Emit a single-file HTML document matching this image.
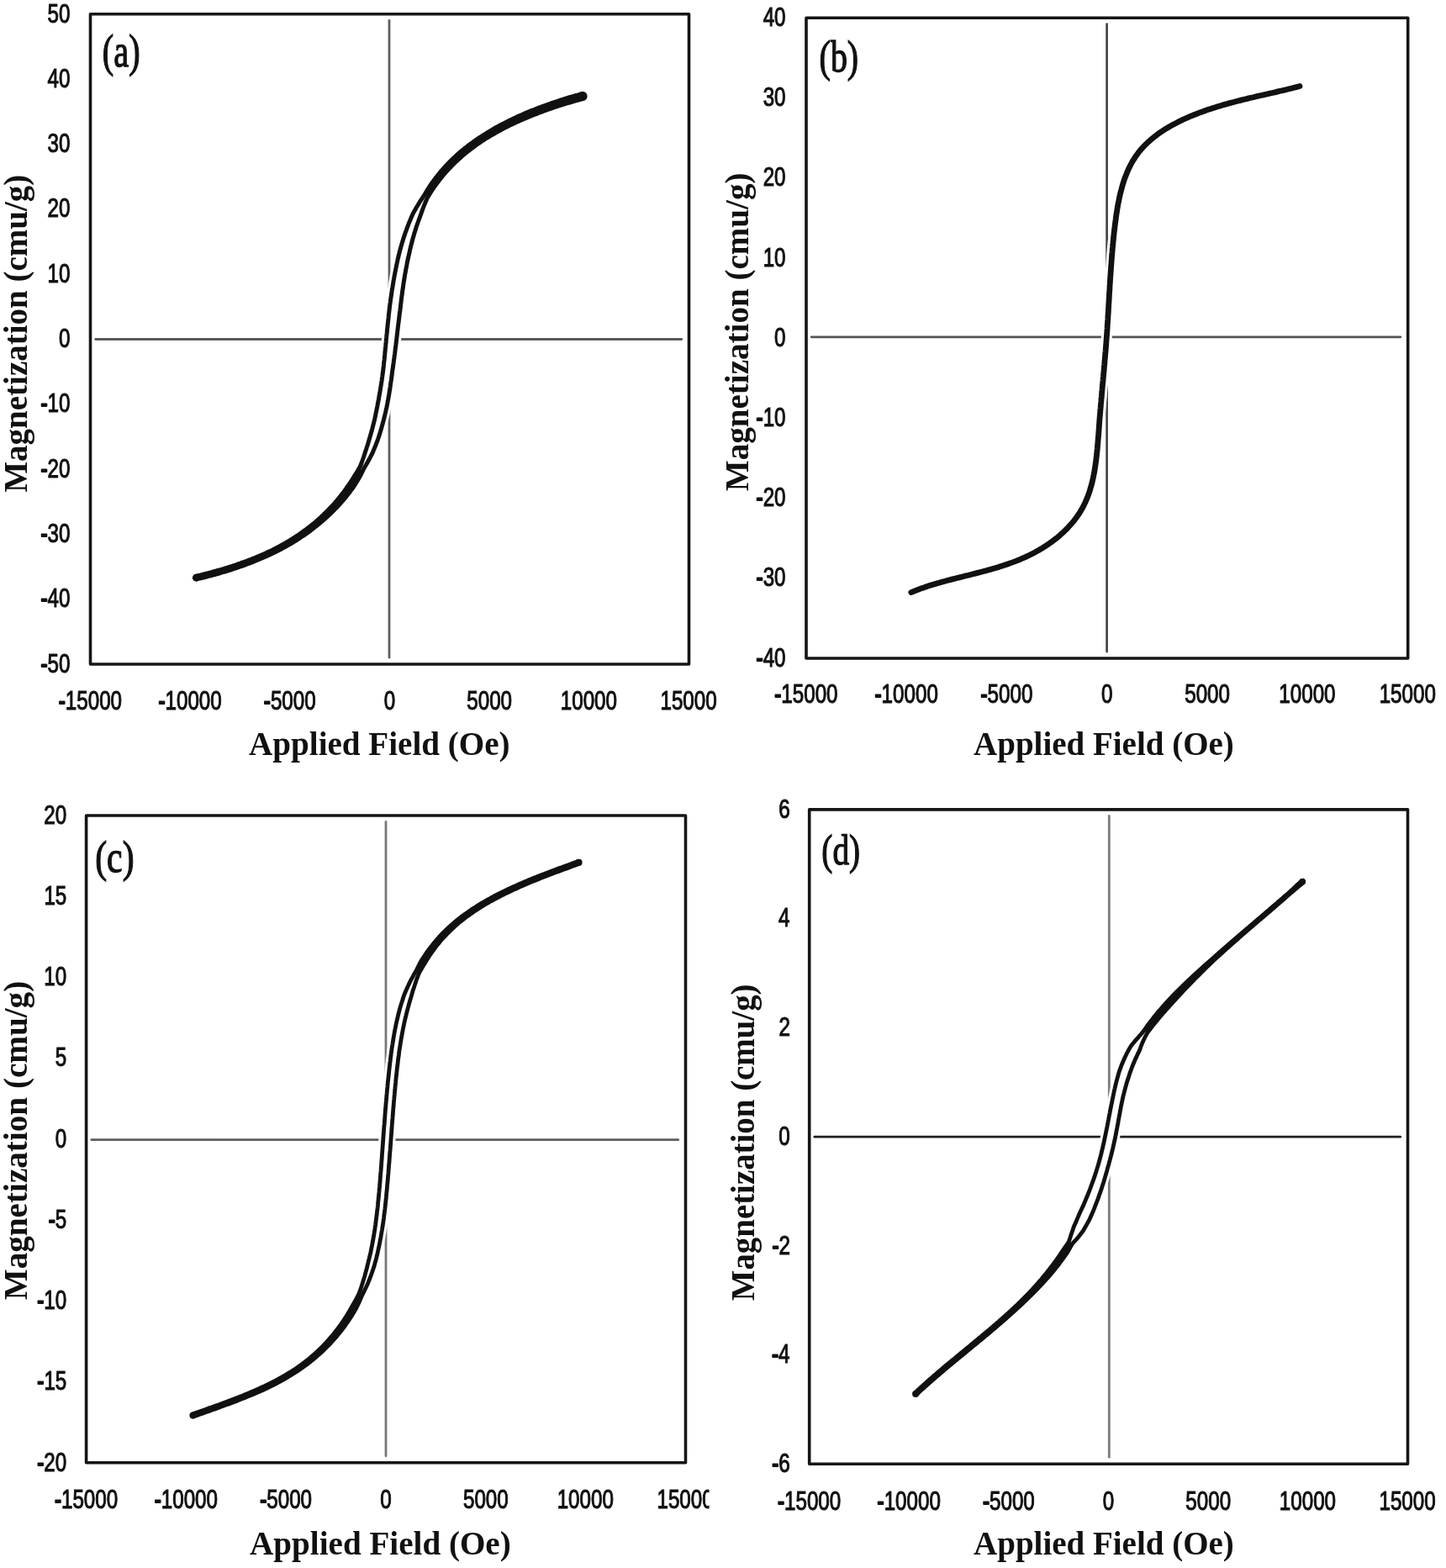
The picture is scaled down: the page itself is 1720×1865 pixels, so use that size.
<!DOCTYPE html>
<html><head><meta charset="utf-8"><title>Magnetization hysteresis loops</title>
<style>html,body{margin:0;padding:0;background:#fff;}svg{display:block;}</style>
</head><body>
<svg xmlns="http://www.w3.org/2000/svg" width="1720" height="1865" viewBox="0 0 1720 1865">
<rect width="1720" height="1865" fill="#fff"/>
<defs><clipPath id="clipc"><rect x="0" y="0" width="843.50" height="1865"/></clipPath></defs>
<line x1="113.70" y1="403.50" x2="810.70" y2="403.50" stroke="#5a5a5a" stroke-width="2.8" stroke-linecap="round"/>
<line x1="463.00" y1="24.30" x2="463.00" y2="782.00" stroke="#5f5f5f" stroke-width="2.8" stroke-linecap="round"/>
<path d="M232.9 685.3L235.2 684.7L237.6 684.2L239.9 683.6L242.3 683.0L244.7 682.4L247.1 681.8L249.5 681.1L251.8 680.5L254.2 679.8L256.6 679.2L259.0 678.5L261.4 677.8L263.9 677.1L266.3 676.4L268.7 675.6L271.1 674.9L273.5 674.1L275.9 673.4L278.3 672.6L280.7 671.8L283.1 670.9L285.5 670.1L287.9 669.2L290.3 668.4L292.7 667.5L295.1 666.6L297.5 665.7L299.9 664.7L302.3 663.8L304.7 662.8L307.0 661.8L309.4 660.8L311.7 659.8L314.1 658.8L316.4 657.7L318.7 656.6L321.1 655.5L323.4 654.4L325.7 653.2L328.0 652.1L330.2 650.9L332.5 649.7L334.7 648.5L337.0 647.2L339.2 645.9L341.4 644.7L343.6 643.4L345.8 642.0L348.0 640.7L350.1 639.3L352.2 637.9L354.4 636.5L356.5 635.1L358.6 633.6L360.6 632.1L362.7 630.7L364.7 629.1L366.8 627.6L368.8 626.1L370.7 624.5L372.7 622.9L374.6 621.3L376.6 619.6L378.5 618.0L380.3 616.3L382.2 614.6L384.0 612.9L385.8 611.1L387.6 609.4L389.4 607.6L391.1 605.8L392.8 604.1L394.5 602.2L396.2 600.4L397.9 598.6L399.5 596.7L401.1 594.8L402.7 592.9L404.2 591.0L405.7 589.1L407.2 587.1L408.7 585.2L410.2 583.2L411.6 581.3L413.0 579.3L414.4 577.3L415.8 575.3L417.1 573.3L418.5 571.3L419.7 569.2L421.0 567.2L422.2 565.1L423.5 563.0L424.8 561.0L426.0 558.9L427.2 556.9L428.4 554.8L429.3 552.5L430.2 550.3L431.0 548.0L431.8 545.7L432.6 543.5L433.3 541.2L434.1 538.9L434.8 536.6L435.6 534.3L436.3 532.0L437.1 529.7L437.8 527.4L438.5 525.1L439.2 522.8L439.8 520.5L440.5 518.2L441.2 515.8L441.8 513.5L442.5 511.2L443.1 508.8L443.7 506.4L444.3 504.1L444.9 501.7L445.5 499.3L446.0 496.9L446.5 494.5L447.0 492.1L447.5 489.7L448.0 487.2L448.5 484.8L449.0 482.4L449.4 479.9L449.9 477.5L450.4 475.0L450.8 472.5L451.2 470.1L451.7 467.6L452.1 465.1L452.5 462.6L452.9 460.1L453.3 457.6L453.7 455.1L454.1 452.6L454.4 450.1L454.8 447.6L455.1 445.0L455.5 442.5L455.8 439.9L456.1 437.4L456.4 434.8L456.6 432.3L456.9 429.7L457.2 427.2L457.4 424.6L457.7 422.0L457.9 419.4L458.2 416.9L458.4 414.3L458.7 411.7L458.9 409.1L459.2 406.5L459.4 403.9L459.7 401.3L459.9 398.8L460.2 396.2L460.4 393.6L460.7 391.0L461.0 388.4L461.2 385.8L461.5 383.2L461.8 380.6L462.1 378.0L462.3 375.4L462.6 372.8L462.9 370.2L463.2 367.6L463.5 365.0L463.8 362.4L464.2 359.8L464.5 357.2L464.9 354.6L465.3 352.0L465.7 349.5L466.0 346.9L466.4 344.3L466.9 341.7L467.3 339.2L467.7 336.6L468.1 334.0L468.6 331.5L469.0 328.9L469.5 326.4L470.0 323.8L470.5 321.3L471.0 318.7L471.5 316.2L472.0 313.7L472.6 311.1L473.1 308.6L473.7 306.1L474.3 303.6L474.9 301.1L475.5 298.6L476.2 296.2L476.9 293.7L477.6 291.3L478.3 288.8L479.1 286.4L479.8 283.9L480.6 281.5L481.4 279.1L482.2 276.7L483.1 274.3L483.9 272.0L484.8 269.6L485.7 267.2L486.6 264.9L487.6 262.6L488.5 260.3L489.5 257.9L490.5 255.7L491.6 253.4L492.8 251.2L494.1 249.0L495.3 246.8L496.6 244.7L497.9 242.6L499.2 240.4L500.5 238.4L501.9 236.3L503.3 234.2L504.6 232.1L505.9 230.0L507.1 227.9L508.4 225.7L509.8 223.6L511.1 221.6L512.5 219.5L513.9 217.5L515.4 215.4L516.8 213.4L518.3 211.4L519.9 209.5L521.4 207.5L523.0 205.6L524.6 203.7L526.2 201.8L527.9 199.9L529.6 198.0L531.3 196.2L533.0 194.4L534.8 192.6L536.6 190.8L538.4 189.0L540.2 187.3L542.1 185.6L543.9 183.9L545.8 182.2L547.8 180.5L549.7 178.9L551.7 177.3L553.7 175.7L555.7 174.1L557.7 172.6L559.8 171.0L561.9 169.5L563.9 168.0L566.0 166.6L568.2 165.1L570.3 163.7L572.5 162.3L574.6 160.9L576.8 159.5L579.0 158.1L581.3 156.8L583.5 155.4L585.7 154.1L588.0 152.8L590.2 151.5L592.5 150.3L594.8 149.0L597.1 147.8L599.4 146.6L601.7 145.4L604.1 144.2L606.4 143.1L608.8 141.9L611.1 140.8L613.5 139.7L615.8 138.6L618.2 137.5L620.6 136.5L623.0 135.4L625.4 134.4L627.8 133.4L630.2 132.4L632.6 131.4L635.0 130.5L637.4 129.5L639.8 128.6L642.2 127.7L644.6 126.7L647.0 125.9L649.5 125.0L651.9 124.1L654.3 123.3L656.7 122.4L659.1 121.6L661.5 120.8L663.9 120.0L666.3 119.2L668.7 118.5L671.1 117.7L673.5 117.0L675.8 116.2L678.2 115.5L680.6 114.8L682.9 114.1L685.3 113.4L687.6 112.8L689.9 112.1L692.3 111.5" fill="none" stroke="#fff" stroke-width="11.00" stroke-linecap="round" stroke-linejoin="round"/>
<path d="M233.7 689.0L236.1 688.4L238.5 687.9L240.8 687.3L243.2 686.7L245.6 686.1L248.0 685.4L250.4 684.8L252.8 684.2L255.2 683.5L257.7 682.8L260.1 682.2L262.5 681.5L264.9 680.7L267.4 680.0L269.8 679.3L272.2 678.5L274.7 677.8L277.1 677.0L279.5 676.2L281.9 675.4L284.4 674.5L286.8 673.7L289.2 672.8L291.7 671.9L294.1 671.0L296.5 670.1L298.9 669.2L301.3 668.3L303.7 667.3L306.1 666.3L308.5 665.3L310.9 664.3L313.3 663.3L315.6 662.2L318.0 661.2L320.4 660.1L322.7 659.0L325.1 657.8L327.4 656.7L329.7 655.5L332.0 654.4L334.3 653.2L336.6 651.9L338.9 650.7L341.2 649.4L343.4 648.1L345.7 646.8L347.9 645.5L350.1 644.2L352.3 642.8L354.5 641.4L356.7 640.0L358.8 638.5L361.0 637.1L363.1 635.6L365.2 634.1L367.3 632.6L369.4 631.1L371.4 629.5L373.5 627.9L375.5 626.3L377.5 624.7L379.5 623.1L381.5 621.5L383.4 619.8L385.4 618.1L387.3 616.4L389.2 614.7L391.0 613.0L392.9 611.2L394.7 609.4L396.5 607.7L398.3 605.8L400.1 604.0L401.8 602.2L403.6 600.3L405.3 598.4L406.9 596.5L408.6 594.6L410.2 592.7L411.8 590.8L413.4 588.8L415.0 586.8L416.4 584.8L417.9 582.8L419.4 580.7L420.8 578.7L422.2 576.6L423.5 574.5L424.8 572.4L426.1 570.3L427.4 568.1L428.6 565.9L429.7 563.7L430.8 561.5L431.9 559.3L432.9 557.0L434.2 554.9L435.5 552.8L436.7 550.7L437.9 548.5L439.1 546.3L440.3 544.1L441.4 541.9L442.6 539.7L443.6 537.4L444.6 535.1L445.5 532.8L446.5 530.5L447.4 528.2L448.3 525.9L449.2 523.5L450.0 521.2L450.8 518.8L451.6 516.4L452.3 514.0L453.0 511.6L453.7 509.2L454.4 506.7L455.1 504.3L455.7 501.9L456.4 499.4L457.0 496.9L457.6 494.5L458.2 492.0L458.8 489.5L459.3 487.0L459.9 484.6L460.4 482.1L460.9 479.5L461.3 477.0L461.8 474.5L462.2 472.0L462.7 469.5L463.1 466.9L463.5 464.4L463.9 461.8L464.3 459.3L464.6 456.7L465.0 454.2L465.4 451.6L465.7 449.1L466.1 446.5L466.4 443.9L466.7 441.4L467.1 438.8L467.5 436.2L467.8 433.6L468.2 431.1L468.5 428.5L468.9 425.9L469.2 423.3L469.6 420.8L469.9 418.2L470.2 415.6L470.5 413.0L470.9 410.4L471.2 407.8L471.5 405.3L471.8 402.7L472.1 400.1L472.4 397.5L472.7 394.9L473.0 392.3L473.3 389.7L473.6 387.2L473.9 384.6L474.3 382.0L474.6 379.4L474.9 376.8L475.2 374.3L475.5 371.7L475.9 369.1L476.2 366.6L476.5 364.0L476.8 361.4L477.1 358.9L477.4 356.3L477.7 353.7L478.1 351.2L478.4 348.6L478.7 346.1L479.1 343.6L479.5 341.0L479.8 338.5L480.2 336.0L480.6 333.5L481.0 331.0L481.4 328.5L481.8 326.0L482.3 323.5L482.7 321.0L483.2 318.5L483.7 316.0L484.1 313.6L484.6 311.1L485.1 308.7L485.7 306.2L486.2 303.8L486.8 301.4L487.3 299.0L487.8 296.5L488.4 294.1L489.0 291.7L489.6 289.3L490.2 287.0L490.8 284.6L491.5 282.2L492.2 279.9L492.8 277.6L493.6 275.2L494.3 272.9L495.0 270.6L495.8 268.3L496.6 266.0L497.4 263.7L498.2 261.5L499.1 259.2L499.9 257.0L500.7 254.7L501.5 252.4L502.3 250.1L503.1 247.9L504.0 245.6L504.9 243.4L505.8 241.1L506.8 238.9L507.7 236.7L508.8 234.5L510.1 232.5L511.3 230.4L512.6 228.4L513.9 226.4L515.3 224.4L516.6 222.4L518.0 220.4L519.5 218.4L520.9 216.5L522.4 214.6L523.9 212.6L525.4 210.7L526.9 208.9L528.5 207.0L530.1 205.2L531.7 203.4L533.4 201.5L535.1 199.8L536.7 198.0L538.5 196.2L540.2 194.5L542.0 192.8L543.8 191.1L545.6 189.4L547.4 187.8L549.3 186.1L551.1 184.5L553.0 182.9L555.0 181.3L556.9 179.8L558.9 178.2L560.9 176.7L562.9 175.2L564.9 173.7L566.9 172.3L569.0 170.8L571.1 169.4L573.2 168.0L575.3 166.6L577.4 165.2L579.6 163.9L581.8 162.6L583.9 161.2L586.1 160.0L588.4 158.7L590.6 157.4L592.8 156.2L595.1 155.0L597.3 153.8L599.6 152.6L601.9 151.4L604.2 150.3L606.5 149.1L608.8 148.0L611.1 146.9L613.5 145.8L615.8 144.8L618.1 143.7L620.5 142.7L622.8 141.6L625.2 140.6L627.6 139.6L629.9 138.7L632.3 137.7L634.7 136.7L637.1 135.8L639.5 134.9L641.9 134.0L644.3 133.1L646.6 132.2L649.0 131.3L651.4 130.5L653.8 129.6L656.2 128.8L658.6 128.0L661.0 127.2L663.4 126.4L665.7 125.7L668.1 124.9L670.5 124.2L672.9 123.4L675.2 122.7L677.6 122.0L679.9 121.3L682.3 120.6L684.6 119.9L686.9 119.3L689.3 118.6L691.6 118.0L693.9 117.4" fill="none" stroke="#fff" stroke-width="11.00" stroke-linecap="round" stroke-linejoin="round"/>
<path d="M232.9 685.3L235.2 684.7L237.6 684.2L239.9 683.6L242.3 683.0L244.7 682.4L247.1 681.8L249.5 681.1L251.8 680.5L254.2 679.8L256.6 679.2L259.0 678.5L261.4 677.8L263.9 677.1L266.3 676.4L268.7 675.6L271.1 674.9L273.5 674.1L275.9 673.4L278.3 672.6L280.7 671.8L283.1 670.9L285.5 670.1L287.9 669.2L290.3 668.4L292.7 667.5L295.1 666.6L297.5 665.7L299.9 664.7L302.3 663.8L304.7 662.8L307.0 661.8L309.4 660.8L311.7 659.8L314.1 658.8L316.4 657.7L318.7 656.6L321.1 655.5L323.4 654.4L325.7 653.2L328.0 652.1L330.2 650.9L332.5 649.7L334.7 648.5L337.0 647.2L339.2 645.9L341.4 644.7L343.6 643.4L345.8 642.0L348.0 640.7L350.1 639.3L352.2 637.9L354.4 636.5L356.5 635.1L358.6 633.6L360.6 632.1L362.7 630.7L364.7 629.1L366.8 627.6L368.8 626.1L370.7 624.5L372.7 622.9L374.6 621.3L376.6 619.6L378.5 618.0L380.3 616.3L382.2 614.6L384.0 612.9L385.8 611.1L387.6 609.4L389.4 607.6L391.1 605.8L392.8 604.1L394.5 602.2L396.2 600.4L397.9 598.6L399.5 596.7L401.1 594.8L402.7 592.9L404.2 591.0L405.7 589.1L407.2 587.1L408.7 585.2L410.2 583.2L411.6 581.3L413.0 579.3L414.4 577.3L415.8 575.3L417.1 573.3L418.5 571.3L419.7 569.2L421.0 567.2L422.2 565.1L423.5 563.0L424.8 561.0L426.0 558.9L427.2 556.9L428.4 554.8L429.3 552.5L430.2 550.3L431.0 548.0L431.8 545.7L432.6 543.5L433.3 541.2L434.1 538.9L434.8 536.6L435.6 534.3L436.3 532.0L437.1 529.7L437.8 527.4L438.5 525.1L439.2 522.8L439.8 520.5L440.5 518.2L441.2 515.8L441.8 513.5L442.5 511.2L443.1 508.8L443.7 506.4L444.3 504.1L444.9 501.7L445.5 499.3L446.0 496.9L446.5 494.5L447.0 492.1L447.5 489.7L448.0 487.2L448.5 484.8L449.0 482.4L449.4 479.9L449.9 477.5L450.4 475.0L450.8 472.5L451.2 470.1L451.7 467.6L452.1 465.1L452.5 462.6L452.9 460.1L453.3 457.6L453.7 455.1L454.1 452.6L454.4 450.1L454.8 447.6L455.1 445.0L455.5 442.5L455.8 439.9L456.1 437.4L456.4 434.8L456.6 432.3L456.9 429.7L457.2 427.2L457.4 424.6L457.7 422.0L457.9 419.4L458.2 416.9L458.4 414.3L458.7 411.7L458.9 409.1L459.2 406.5L459.4 403.9L459.7 401.3L459.9 398.8L460.2 396.2L460.4 393.6L460.7 391.0L461.0 388.4L461.2 385.8L461.5 383.2L461.8 380.6L462.1 378.0L462.3 375.4L462.6 372.8L462.9 370.2L463.2 367.6L463.5 365.0L463.8 362.4L464.2 359.8L464.5 357.2L464.9 354.6L465.3 352.0L465.7 349.5L466.0 346.9L466.4 344.3L466.9 341.7L467.3 339.2L467.7 336.6L468.1 334.0L468.6 331.5L469.0 328.9L469.5 326.4L470.0 323.8L470.5 321.3L471.0 318.7L471.5 316.2L472.0 313.7L472.6 311.1L473.1 308.6L473.7 306.1L474.3 303.6L474.9 301.1L475.5 298.6L476.2 296.2L476.9 293.7L477.6 291.3L478.3 288.8L479.1 286.4L479.8 283.9L480.6 281.5L481.4 279.1L482.2 276.7L483.1 274.3L483.9 272.0L484.8 269.6L485.7 267.2L486.6 264.9L487.6 262.6L488.5 260.3L489.5 257.9L490.5 255.7L491.6 253.4L492.8 251.2L494.1 249.0L495.3 246.8L496.6 244.7L497.9 242.6L499.2 240.4L500.5 238.4L501.9 236.3L503.3 234.2L504.6 232.1L505.9 230.0L507.1 227.9L508.4 225.7L509.8 223.6L511.1 221.6L512.5 219.5L513.9 217.5L515.4 215.4L516.8 213.4L518.3 211.4L519.9 209.5L521.4 207.5L523.0 205.6L524.6 203.7L526.2 201.8L527.9 199.9L529.6 198.0L531.3 196.2L533.0 194.4L534.8 192.6L536.6 190.8L538.4 189.0L540.2 187.3L542.1 185.6L543.9 183.9L545.8 182.2L547.8 180.5L549.7 178.9L551.7 177.3L553.7 175.7L555.7 174.1L557.7 172.6L559.8 171.0L561.9 169.5L563.9 168.0L566.0 166.6L568.2 165.1L570.3 163.7L572.5 162.3L574.6 160.9L576.8 159.5L579.0 158.1L581.3 156.8L583.5 155.4L585.7 154.1L588.0 152.8L590.2 151.5L592.5 150.3L594.8 149.0L597.1 147.8L599.4 146.6L601.7 145.4L604.1 144.2L606.4 143.1L608.8 141.9L611.1 140.8L613.5 139.7L615.8 138.6L618.2 137.5L620.6 136.5L623.0 135.4L625.4 134.4L627.8 133.4L630.2 132.4L632.6 131.4L635.0 130.5L637.4 129.5L639.8 128.6L642.2 127.7L644.6 126.7L647.0 125.9L649.5 125.0L651.9 124.1L654.3 123.3L656.7 122.4L659.1 121.6L661.5 120.8L663.9 120.0L666.3 119.2L668.7 118.5L671.1 117.7L673.5 117.0L675.8 116.2L678.2 115.5L680.6 114.8L682.9 114.1L685.3 113.4L687.6 112.8L689.9 112.1L692.3 111.5L693.9 117.4L691.6 118.0L689.3 118.6L686.9 119.3L684.6 119.9L682.3 120.6L679.9 121.3L677.6 122.0L675.2 122.7L672.9 123.4L670.5 124.2L668.1 124.9L665.7 125.7L663.4 126.4L661.0 127.2L658.6 128.0L656.2 128.8L653.8 129.6L651.4 130.5L649.0 131.3L646.6 132.2L644.3 133.1L641.9 134.0L639.5 134.9L637.1 135.8L634.7 136.7L632.3 137.7L629.9 138.7L627.6 139.6L625.2 140.6L622.8 141.6L620.5 142.7L618.1 143.7L615.8 144.8L613.5 145.8L611.1 146.9L608.8 148.0L606.5 149.1L604.2 150.3L601.9 151.4L599.6 152.6L597.3 153.8L595.1 155.0L592.8 156.2L590.6 157.4L588.4 158.7L586.1 160.0L583.9 161.2L581.8 162.6L579.6 163.9L577.4 165.2L575.3 166.6L573.2 168.0L571.1 169.4L569.0 170.8L566.9 172.3L564.9 173.7L562.9 175.2L560.9 176.7L558.9 178.2L556.9 179.8L555.0 181.3L553.0 182.9L551.1 184.5L549.3 186.1L547.4 187.8L545.6 189.4L543.8 191.1L542.0 192.8L540.2 194.5L538.5 196.2L536.7 198.0L535.1 199.8L533.4 201.5L531.7 203.4L530.1 205.2L528.5 207.0L526.9 208.9L525.4 210.7L523.9 212.6L522.4 214.6L520.9 216.5L519.5 218.4L518.0 220.4L516.6 222.4L515.3 224.4L513.9 226.4L512.6 228.4L511.3 230.4L510.1 232.5L508.8 234.5L507.7 236.7L506.8 238.9L505.8 241.1L504.9 243.4L504.0 245.6L503.1 247.9L502.3 250.1L501.5 252.4L500.7 254.7L499.9 257.0L499.1 259.2L498.2 261.5L497.4 263.7L496.6 266.0L495.8 268.3L495.0 270.6L494.3 272.9L493.6 275.2L492.8 277.6L492.2 279.9L491.5 282.2L490.8 284.6L490.2 287.0L489.6 289.3L489.0 291.7L488.4 294.1L487.8 296.5L487.3 299.0L486.8 301.4L486.2 303.8L485.7 306.2L485.1 308.7L484.6 311.1L484.1 313.6L483.7 316.0L483.2 318.5L482.7 321.0L482.3 323.5L481.8 326.0L481.4 328.5L481.0 331.0L480.6 333.5L480.2 336.0L479.8 338.5L479.5 341.0L479.1 343.6L478.7 346.1L478.4 348.6L478.1 351.2L477.7 353.7L477.4 356.3L477.1 358.9L476.8 361.4L476.5 364.0L476.2 366.6L475.9 369.1L475.5 371.7L475.2 374.3L474.9 376.8L474.6 379.4L474.3 382.0L473.9 384.6L473.6 387.2L473.3 389.7L473.0 392.3L472.7 394.9L472.4 397.5L472.1 400.1L471.8 402.7L471.5 405.3L471.2 407.8L470.9 410.4L470.5 413.0L470.2 415.6L469.9 418.2L469.6 420.8L469.2 423.3L468.9 425.9L468.5 428.5L468.2 431.1L467.8 433.6L467.5 436.2L467.1 438.8L466.7 441.4L466.4 443.9L466.1 446.5L465.7 449.1L465.4 451.6L465.0 454.2L464.6 456.7L464.3 459.3L463.9 461.8L463.5 464.4L463.1 466.9L462.7 469.5L462.2 472.0L461.8 474.5L461.3 477.0L460.9 479.5L460.4 482.1L459.9 484.6L459.3 487.0L458.8 489.5L458.2 492.0L457.6 494.5L457.0 496.9L456.4 499.4L455.7 501.9L455.1 504.3L454.4 506.7L453.7 509.2L453.0 511.6L452.3 514.0L451.6 516.4L450.8 518.8L450.0 521.2L449.2 523.5L448.3 525.9L447.4 528.2L446.5 530.5L445.5 532.8L444.6 535.1L443.6 537.4L442.6 539.7L441.4 541.9L440.3 544.1L439.1 546.3L437.9 548.5L436.7 550.7L435.5 552.8L434.2 554.9L432.9 557.0L431.9 559.3L430.8 561.5L429.7 563.7L428.6 565.9L427.4 568.1L426.1 570.3L424.8 572.4L423.5 574.5L422.2 576.6L420.8 578.7L419.4 580.7L417.9 582.8L416.4 584.8L415.0 586.8L413.4 588.8L411.8 590.8L410.2 592.7L408.6 594.6L406.9 596.5L405.3 598.4L403.6 600.3L401.8 602.2L400.1 604.0L398.3 605.8L396.5 607.7L394.7 609.4L392.9 611.2L391.0 613.0L389.2 614.7L387.3 616.4L385.4 618.1L383.4 619.8L381.5 621.5L379.5 623.1L377.5 624.7L375.5 626.3L373.5 627.9L371.4 629.5L369.4 631.1L367.3 632.6L365.2 634.1L363.1 635.6L361.0 637.1L358.8 638.5L356.7 640.0L354.5 641.4L352.3 642.8L350.1 644.2L347.9 645.5L345.7 646.8L343.4 648.1L341.2 649.4L338.9 650.7L336.6 651.9L334.3 653.2L332.0 654.4L329.7 655.5L327.4 656.7L325.1 657.8L322.7 659.0L320.4 660.1L318.0 661.2L315.6 662.2L313.3 663.3L310.9 664.3L308.5 665.3L306.1 666.3L303.7 667.3L301.3 668.3L298.9 669.2L296.5 670.1L294.1 671.0L291.7 671.9L289.2 672.8L286.8 673.7L284.4 674.5L281.9 675.4L279.5 676.2L277.1 677.0L274.7 677.8L272.2 678.5L269.8 679.3L267.4 680.0L264.9 680.7L262.5 681.5L260.1 682.2L257.7 682.8L255.2 683.5L252.8 684.2L250.4 684.8L248.0 685.4L245.6 686.1L243.2 686.7L240.8 687.3L238.5 687.9L236.1 688.4L233.7 689.0Z" fill="#fff"/>
<path d="M504.6 232.1L505.9 230.0L507.1 227.9L508.4 225.7L509.8 223.6L511.1 221.6L512.5 219.5L513.9 217.5L515.4 215.4L516.8 213.4L518.3 211.4L519.9 209.5L521.4 207.5L523.0 205.6L524.6 203.7L526.2 201.8L527.9 199.9L529.6 198.0L531.3 196.2L533.0 194.4L534.8 192.6L536.6 190.8L538.4 189.0L540.2 187.3L542.1 185.6L543.9 183.9L545.8 182.2L547.8 180.5L549.7 178.9L551.7 177.3L553.7 175.7L555.7 174.1L557.7 172.6L559.8 171.0L561.9 169.5L563.9 168.0L566.0 166.6L568.2 165.1L570.3 163.7L572.5 162.3L574.6 160.9L576.8 159.5L579.0 158.1L581.3 156.8L583.5 155.4L585.7 154.1L588.0 152.8L590.2 151.5L592.5 150.3L594.8 149.0L597.1 147.8L599.4 146.6L601.7 145.4L604.1 144.2L606.4 143.1L608.8 141.9L611.1 140.8L613.5 139.7L615.8 138.6L618.2 137.5L620.6 136.5L623.0 135.4L625.4 134.4L627.8 133.4L630.2 132.4L632.6 131.4L635.0 130.5L637.4 129.5L639.8 128.6L642.2 127.7L644.6 126.7L647.0 125.9L649.5 125.0L651.9 124.1L654.3 123.3L656.7 122.4L659.1 121.6L661.5 120.8L663.9 120.0L666.3 119.2L668.7 118.5L671.1 117.7L673.5 117.0L675.8 116.2L678.2 115.5L680.6 114.8L682.9 114.1L685.3 113.4L687.6 112.8L689.9 112.1L692.3 111.5L693.9 117.4L691.6 118.0L689.3 118.6L686.9 119.3L684.6 119.9L682.3 120.6L679.9 121.3L677.6 122.0L675.2 122.7L672.9 123.4L670.5 124.2L668.1 124.9L665.7 125.7L663.4 126.4L661.0 127.2L658.6 128.0L656.2 128.8L653.8 129.6L651.4 130.5L649.0 131.3L646.6 132.2L644.3 133.1L641.9 134.0L639.5 134.9L637.1 135.8L634.7 136.7L632.3 137.7L629.9 138.7L627.6 139.6L625.2 140.6L622.8 141.6L620.5 142.7L618.1 143.7L615.8 144.8L613.5 145.8L611.1 146.9L608.8 148.0L606.5 149.1L604.2 150.3L601.9 151.4L599.6 152.6L597.3 153.8L595.1 155.0L592.8 156.2L590.6 157.4L588.4 158.7L586.1 160.0L583.9 161.2L581.8 162.6L579.6 163.9L577.4 165.2L575.3 166.6L573.2 168.0L571.1 169.4L569.0 170.8L566.9 172.3L564.9 173.7L562.9 175.2L560.9 176.7L558.9 178.2L556.9 179.8L555.0 181.3L553.0 182.9L551.1 184.5L549.3 186.1L547.4 187.8L545.6 189.4L543.8 191.1L542.0 192.8L540.2 194.5L538.5 196.2L536.7 198.0L535.1 199.8L533.4 201.5L531.7 203.4L530.1 205.2L528.5 207.0L526.9 208.9L525.4 210.7L523.9 212.6L522.4 214.6L520.9 216.5L519.5 218.4L518.0 220.4L516.6 222.4L515.3 224.4L513.9 226.4L512.6 228.4L511.3 230.4L510.1 232.5L508.8 234.5Z" fill="#111"/>
<path d="M232.9 685.3L235.2 684.7L237.6 684.2L239.9 683.6L242.3 683.0L244.7 682.4L247.1 681.8L249.5 681.1L251.8 680.5L254.2 679.8L256.6 679.2L259.0 678.5L261.4 677.8L263.9 677.1L266.3 676.4L268.7 675.6L271.1 674.9L273.5 674.1L275.9 673.4L278.3 672.6L280.7 671.8L283.1 670.9L285.5 670.1L287.9 669.2L290.3 668.4L292.7 667.5L295.1 666.6L297.5 665.7L299.9 664.7L302.3 663.8L304.7 662.8L307.0 661.8L309.4 660.8L311.7 659.8L314.1 658.8L316.4 657.7L318.7 656.6L321.1 655.5L323.4 654.4L325.7 653.2L328.0 652.1L330.2 650.9L332.5 649.7L334.7 648.5L337.0 647.2L339.2 645.9L341.4 644.7L343.6 643.4L345.8 642.0L348.0 640.7L350.1 639.3L352.2 637.9L354.4 636.5L356.5 635.1L358.6 633.6L360.6 632.1L362.7 630.7L364.7 629.1L366.8 627.6L368.8 626.1L370.7 624.5L372.7 622.9L374.6 621.3L376.6 619.6L378.5 618.0L380.3 616.3L382.2 614.6L384.0 612.9L385.8 611.1L387.6 609.4L389.4 607.6L391.1 605.8L392.8 604.1L394.5 602.2L396.2 600.4L397.9 598.6L399.5 596.7L401.1 594.8L402.7 592.9L404.2 591.0L405.7 589.1L407.2 587.1L408.7 585.2L410.2 583.2L411.6 581.3L413.0 579.3L414.4 577.3L415.8 575.3L417.1 573.3L418.5 571.3L419.7 569.2L421.0 567.2L422.2 565.1L423.5 563.0L424.8 561.0L426.0 558.9L427.2 556.9L431.9 559.3L430.8 561.5L429.7 563.7L428.6 565.9L427.4 568.1L426.1 570.3L424.8 572.4L423.5 574.5L422.2 576.6L420.8 578.7L419.4 580.7L417.9 582.8L416.4 584.8L415.0 586.8L413.4 588.8L411.8 590.8L410.2 592.7L408.6 594.6L406.9 596.5L405.3 598.4L403.6 600.3L401.8 602.2L400.1 604.0L398.3 605.8L396.5 607.7L394.7 609.4L392.9 611.2L391.0 613.0L389.2 614.7L387.3 616.4L385.4 618.1L383.4 619.8L381.5 621.5L379.5 623.1L377.5 624.7L375.5 626.3L373.5 627.9L371.4 629.5L369.4 631.1L367.3 632.6L365.2 634.1L363.1 635.6L361.0 637.1L358.8 638.5L356.7 640.0L354.5 641.4L352.3 642.8L350.1 644.2L347.9 645.5L345.7 646.8L343.4 648.1L341.2 649.4L338.9 650.7L336.6 651.9L334.3 653.2L332.0 654.4L329.7 655.5L327.4 656.7L325.1 657.8L322.7 659.0L320.4 660.1L318.0 661.2L315.6 662.2L313.3 663.3L310.9 664.3L308.5 665.3L306.1 666.3L303.7 667.3L301.3 668.3L298.9 669.2L296.5 670.1L294.1 671.0L291.7 671.9L289.2 672.8L286.8 673.7L284.4 674.5L281.9 675.4L279.5 676.2L277.1 677.0L274.7 677.8L272.2 678.5L269.8 679.3L267.4 680.0L264.9 680.7L262.5 681.5L260.1 682.2L257.7 682.8L255.2 683.5L252.8 684.2L250.4 684.8L248.0 685.4L245.6 686.1L243.2 686.7L240.8 687.3L238.5 687.9L236.1 688.4L233.7 689.0Z" fill="#111"/>
<path d="M232.9 685.3L235.2 684.7L237.6 684.2L239.9 683.6L242.3 683.0L244.7 682.4L247.1 681.8L249.5 681.1L251.8 680.5L254.2 679.8L256.6 679.2L259.0 678.5L261.4 677.8L263.9 677.1L266.3 676.4L268.7 675.6L271.1 674.9L273.5 674.1L275.9 673.4L278.3 672.6L280.7 671.8L283.1 670.9L285.5 670.1L287.9 669.2L290.3 668.4L292.7 667.5L295.1 666.6L297.5 665.7L299.9 664.7L302.3 663.8L304.7 662.8L307.0 661.8L309.4 660.8L311.7 659.8L314.1 658.8L316.4 657.7L318.7 656.6L321.1 655.5L323.4 654.4L325.7 653.2L328.0 652.1L330.2 650.9L332.5 649.7L334.7 648.5L337.0 647.2L339.2 645.9L341.4 644.7L343.6 643.4L345.8 642.0L348.0 640.7L350.1 639.3L352.2 637.9L354.4 636.5L356.5 635.1L358.6 633.6L360.6 632.1L362.7 630.7L364.7 629.1L366.8 627.6L368.8 626.1L370.7 624.5L372.7 622.9L374.6 621.3L376.6 619.6L378.5 618.0L380.3 616.3L382.2 614.6L384.0 612.9L385.8 611.1L387.6 609.4L389.4 607.6L391.1 605.8L392.8 604.1L394.5 602.2L396.2 600.4L397.9 598.6L399.5 596.7L401.1 594.8L402.7 592.9L404.2 591.0L405.7 589.1L407.2 587.1L408.7 585.2L410.2 583.2L411.6 581.3L413.0 579.3L414.4 577.3L415.8 575.3L417.1 573.3L418.5 571.3L419.7 569.2L421.0 567.2L422.2 565.1L423.5 563.0L424.8 561.0L426.0 558.9L427.2 556.9L428.4 554.8L429.3 552.5L430.2 550.3L431.0 548.0L431.8 545.7L432.6 543.5L433.3 541.2L434.1 538.9L434.8 536.6L435.6 534.3L436.3 532.0L437.1 529.7L437.8 527.4L438.5 525.1L439.2 522.8L439.8 520.5L440.5 518.2L441.2 515.8L441.8 513.5L442.5 511.2L443.1 508.8L443.7 506.4L444.3 504.1L444.9 501.7L445.5 499.3L446.0 496.9L446.5 494.5L447.0 492.1L447.5 489.7L448.0 487.2L448.5 484.8L449.0 482.4L449.4 479.9L449.9 477.5L450.4 475.0L450.8 472.5L451.2 470.1L451.7 467.6L452.1 465.1L452.5 462.6L452.9 460.1L453.3 457.6L453.7 455.1L454.1 452.6L454.4 450.1L454.8 447.6L455.1 445.0L455.5 442.5L455.8 439.9L456.1 437.4L456.4 434.8L456.6 432.3L456.9 429.7L457.2 427.2L457.4 424.6L457.7 422.0L457.9 419.4L458.2 416.9L458.4 414.3L458.7 411.7L458.9 409.1L459.2 406.5L459.4 403.9L459.7 401.3L459.9 398.8L460.2 396.2L460.4 393.6L460.7 391.0L461.0 388.4L461.2 385.8L461.5 383.2L461.8 380.6L462.1 378.0L462.3 375.4L462.6 372.8L462.9 370.2L463.2 367.6L463.5 365.0L463.8 362.4L464.2 359.8L464.5 357.2L464.9 354.6L465.3 352.0L465.7 349.5L466.0 346.9L466.4 344.3L466.9 341.7L467.3 339.2L467.7 336.6L468.1 334.0L468.6 331.5L469.0 328.9L469.5 326.4L470.0 323.8L470.5 321.3L471.0 318.7L471.5 316.2L472.0 313.7L472.6 311.1L473.1 308.6L473.7 306.1L474.3 303.6L474.9 301.1L475.5 298.6L476.2 296.2L476.9 293.7L477.6 291.3L478.3 288.8L479.1 286.4L479.8 283.9L480.6 281.5L481.4 279.1L482.2 276.7L483.1 274.3L483.9 272.0L484.8 269.6L485.7 267.2L486.6 264.9L487.6 262.6L488.5 260.3L489.5 257.9L490.5 255.7L491.6 253.4L492.8 251.2L494.1 249.0L495.3 246.8L496.6 244.7L497.9 242.6L499.2 240.4L500.5 238.4L501.9 236.3L503.3 234.2L504.6 232.1L505.9 230.0L507.1 227.9L508.4 225.7L509.8 223.6L511.1 221.6L512.5 219.5L513.9 217.5L515.4 215.4L516.8 213.4L518.3 211.4L519.9 209.5L521.4 207.5L523.0 205.6L524.6 203.7L526.2 201.8L527.9 199.9L529.6 198.0L531.3 196.2L533.0 194.4L534.8 192.6L536.6 190.8L538.4 189.0L540.2 187.3L542.1 185.6L543.9 183.9L545.8 182.2L547.8 180.5L549.7 178.9L551.7 177.3L553.7 175.7L555.7 174.1L557.7 172.6L559.8 171.0L561.9 169.5L563.9 168.0L566.0 166.6L568.2 165.1L570.3 163.7L572.5 162.3L574.6 160.9L576.8 159.5L579.0 158.1L581.3 156.8L583.5 155.4L585.7 154.1L588.0 152.8L590.2 151.5L592.5 150.3L594.8 149.0L597.1 147.8L599.4 146.6L601.7 145.4L604.1 144.2L606.4 143.1L608.8 141.9L611.1 140.8L613.5 139.7L615.8 138.6L618.2 137.5L620.6 136.5L623.0 135.4L625.4 134.4L627.8 133.4L630.2 132.4L632.6 131.4L635.0 130.5L637.4 129.5L639.8 128.6L642.2 127.7L644.6 126.7L647.0 125.9L649.5 125.0L651.9 124.1L654.3 123.3L656.7 122.4L659.1 121.6L661.5 120.8L663.9 120.0L666.3 119.2L668.7 118.5L671.1 117.7L673.5 117.0L675.8 116.2L678.2 115.5L680.6 114.8L682.9 114.1L685.3 113.4L687.6 112.8L689.9 112.1L692.3 111.5" fill="none" stroke="#111" stroke-width="5.00" stroke-linecap="round" stroke-linejoin="round"/>
<path d="M233.7 689.0L236.1 688.4L238.5 687.9L240.8 687.3L243.2 686.7L245.6 686.1L248.0 685.4L250.4 684.8L252.8 684.2L255.2 683.5L257.7 682.8L260.1 682.2L262.5 681.5L264.9 680.7L267.4 680.0L269.8 679.3L272.2 678.5L274.7 677.8L277.1 677.0L279.5 676.2L281.9 675.4L284.4 674.5L286.8 673.7L289.2 672.8L291.7 671.9L294.1 671.0L296.5 670.1L298.9 669.2L301.3 668.3L303.7 667.3L306.1 666.3L308.5 665.3L310.9 664.3L313.3 663.3L315.6 662.2L318.0 661.2L320.4 660.1L322.7 659.0L325.1 657.8L327.4 656.7L329.7 655.5L332.0 654.4L334.3 653.2L336.6 651.9L338.9 650.7L341.2 649.4L343.4 648.1L345.7 646.8L347.9 645.5L350.1 644.2L352.3 642.8L354.5 641.4L356.7 640.0L358.8 638.5L361.0 637.1L363.1 635.6L365.2 634.1L367.3 632.6L369.4 631.1L371.4 629.5L373.5 627.9L375.5 626.3L377.5 624.7L379.5 623.1L381.5 621.5L383.4 619.8L385.4 618.1L387.3 616.4L389.2 614.7L391.0 613.0L392.9 611.2L394.7 609.4L396.5 607.7L398.3 605.8L400.1 604.0L401.8 602.2L403.6 600.3L405.3 598.4L406.9 596.5L408.6 594.6L410.2 592.7L411.8 590.8L413.4 588.8L415.0 586.8L416.4 584.8L417.9 582.8L419.4 580.7L420.8 578.7L422.2 576.6L423.5 574.5L424.8 572.4L426.1 570.3L427.4 568.1L428.6 565.9L429.7 563.7L430.8 561.5L431.9 559.3L432.9 557.0L434.2 554.9L435.5 552.8L436.7 550.7L437.9 548.5L439.1 546.3L440.3 544.1L441.4 541.9L442.6 539.7L443.6 537.4L444.6 535.1L445.5 532.8L446.5 530.5L447.4 528.2L448.3 525.9L449.2 523.5L450.0 521.2L450.8 518.8L451.6 516.4L452.3 514.0L453.0 511.6L453.7 509.2L454.4 506.7L455.1 504.3L455.7 501.9L456.4 499.4L457.0 496.9L457.6 494.5L458.2 492.0L458.8 489.5L459.3 487.0L459.9 484.6L460.4 482.1L460.9 479.5L461.3 477.0L461.8 474.5L462.2 472.0L462.7 469.5L463.1 466.9L463.5 464.4L463.9 461.8L464.3 459.3L464.6 456.7L465.0 454.2L465.4 451.6L465.7 449.1L466.1 446.5L466.4 443.9L466.7 441.4L467.1 438.8L467.5 436.2L467.8 433.6L468.2 431.1L468.5 428.5L468.9 425.9L469.2 423.3L469.6 420.8L469.9 418.2L470.2 415.6L470.5 413.0L470.9 410.4L471.2 407.8L471.5 405.3L471.8 402.7L472.1 400.1L472.4 397.5L472.7 394.9L473.0 392.3L473.3 389.7L473.6 387.2L473.9 384.6L474.3 382.0L474.6 379.4L474.9 376.8L475.2 374.3L475.5 371.7L475.9 369.1L476.2 366.6L476.5 364.0L476.8 361.4L477.1 358.9L477.4 356.3L477.7 353.7L478.1 351.2L478.4 348.6L478.7 346.1L479.1 343.6L479.5 341.0L479.8 338.5L480.2 336.0L480.6 333.5L481.0 331.0L481.4 328.5L481.8 326.0L482.3 323.5L482.7 321.0L483.2 318.5L483.7 316.0L484.1 313.6L484.6 311.1L485.1 308.7L485.7 306.2L486.2 303.8L486.8 301.4L487.3 299.0L487.8 296.5L488.4 294.1L489.0 291.7L489.6 289.3L490.2 287.0L490.8 284.6L491.5 282.2L492.2 279.9L492.8 277.6L493.6 275.2L494.3 272.9L495.0 270.6L495.8 268.3L496.6 266.0L497.4 263.7L498.2 261.5L499.1 259.2L499.9 257.0L500.7 254.7L501.5 252.4L502.3 250.1L503.1 247.9L504.0 245.6L504.9 243.4L505.8 241.1L506.8 238.9L507.7 236.7L508.8 234.5L510.1 232.5L511.3 230.4L512.6 228.4L513.9 226.4L515.3 224.4L516.6 222.4L518.0 220.4L519.5 218.4L520.9 216.5L522.4 214.6L523.9 212.6L525.4 210.7L526.9 208.9L528.5 207.0L530.1 205.2L531.7 203.4L533.4 201.5L535.1 199.8L536.7 198.0L538.5 196.2L540.2 194.5L542.0 192.8L543.8 191.1L545.6 189.4L547.4 187.8L549.3 186.1L551.1 184.5L553.0 182.9L555.0 181.3L556.9 179.8L558.9 178.2L560.9 176.7L562.9 175.2L564.9 173.7L566.9 172.3L569.0 170.8L571.1 169.4L573.2 168.0L575.3 166.6L577.4 165.2L579.6 163.9L581.8 162.6L583.9 161.2L586.1 160.0L588.4 158.7L590.6 157.4L592.8 156.2L595.1 155.0L597.3 153.8L599.6 152.6L601.9 151.4L604.2 150.3L606.5 149.1L608.8 148.0L611.1 146.9L613.5 145.8L615.8 144.8L618.1 143.7L620.5 142.7L622.8 141.6L625.2 140.6L627.6 139.6L629.9 138.7L632.3 137.7L634.7 136.7L637.1 135.8L639.5 134.9L641.9 134.0L644.3 133.1L646.6 132.2L649.0 131.3L651.4 130.5L653.8 129.6L656.2 128.8L658.6 128.0L661.0 127.2L663.4 126.4L665.7 125.7L668.1 124.9L670.5 124.2L672.9 123.4L675.2 122.7L677.6 122.0L679.9 121.3L682.3 120.6L684.6 119.9L686.9 119.3L689.3 118.6L691.6 118.0L693.9 117.4" fill="none" stroke="#111" stroke-width="5.00" stroke-linecap="round" stroke-linejoin="round"/>
<circle cx="233.30" cy="687.14" r="4.40" fill="#111"/>
<circle cx="693.07" cy="114.40" r="5.56" fill="#111"/>
<rect x="107.50" y="16.80" width="712.00" height="773.20" fill="none" stroke="#151515" stroke-width="3.6" stroke-linejoin="round"/>
<text transform="translate(56.57 26.52) scale(0.7900 1)" font-family='"Liberation Sans", sans-serif' font-weight="normal" font-size="30.60" fill="#111" stroke="#111" stroke-width="1.1">50</text>
<text transform="translate(56.57 103.84) scale(0.7900 1)" font-family='"Liberation Sans", sans-serif' font-weight="normal" font-size="30.60" fill="#111" stroke="#111" stroke-width="1.1">40</text>
<text transform="translate(56.57 181.16) scale(0.7900 1)" font-family='"Liberation Sans", sans-serif' font-weight="normal" font-size="30.60" fill="#111" stroke="#111" stroke-width="1.1">30</text>
<text transform="translate(56.57 258.48) scale(0.7900 1)" font-family='"Liberation Sans", sans-serif' font-weight="normal" font-size="30.60" fill="#111" stroke="#111" stroke-width="1.1">20</text>
<text transform="translate(56.57 335.80) scale(0.7900 1)" font-family='"Liberation Sans", sans-serif' font-weight="normal" font-size="30.60" fill="#111" stroke="#111" stroke-width="1.1">10</text>
<text transform="translate(69.99 413.12) scale(0.7900 1)" font-family='"Liberation Sans", sans-serif' font-weight="normal" font-size="30.60" fill="#111" stroke="#111" stroke-width="1.1">0</text>
<text transform="translate(48.48 490.44) scale(0.7900 1)" font-family='"Liberation Sans", sans-serif' font-weight="normal" font-size="30.60" fill="#111" stroke="#111" stroke-width="1.1"><tspan stroke-width="2.1" stroke-linejoin="round" stroke-linecap="round">-</tspan>10</text>
<text transform="translate(48.48 567.76) scale(0.7900 1)" font-family='"Liberation Sans", sans-serif' font-weight="normal" font-size="30.60" fill="#111" stroke="#111" stroke-width="1.1"><tspan stroke-width="2.1" stroke-linejoin="round" stroke-linecap="round">-</tspan>20</text>
<text transform="translate(48.48 645.08) scale(0.7900 1)" font-family='"Liberation Sans", sans-serif' font-weight="normal" font-size="30.60" fill="#111" stroke="#111" stroke-width="1.1"><tspan stroke-width="2.1" stroke-linejoin="round" stroke-linecap="round">-</tspan>30</text>
<text transform="translate(48.48 722.40) scale(0.7900 1)" font-family='"Liberation Sans", sans-serif' font-weight="normal" font-size="30.60" fill="#111" stroke="#111" stroke-width="1.1"><tspan stroke-width="2.1" stroke-linejoin="round" stroke-linecap="round">-</tspan>40</text>
<text transform="translate(48.48 799.72) scale(0.7900 1)" font-family='"Liberation Sans", sans-serif' font-weight="normal" font-size="30.60" fill="#111" stroke="#111" stroke-width="1.1"><tspan stroke-width="2.1" stroke-linejoin="round" stroke-linecap="round">-</tspan>50</text>
<text transform="translate(69.79 844.22) scale(0.7900 1)" font-family='"Liberation Sans", sans-serif' font-weight="normal" font-size="30.60" fill="#111" stroke="#111" stroke-width="1.1"><tspan stroke-width="2.1" stroke-linejoin="round" stroke-linecap="round">-</tspan>15000</text>
<text transform="translate(188.46 844.22) scale(0.7900 1)" font-family='"Liberation Sans", sans-serif' font-weight="normal" font-size="30.60" fill="#111" stroke="#111" stroke-width="1.1"><tspan stroke-width="2.1" stroke-linejoin="round" stroke-linecap="round">-</tspan>10000</text>
<text transform="translate(313.83 844.22) scale(0.7900 1)" font-family='"Liberation Sans", sans-serif' font-weight="normal" font-size="30.60" fill="#111" stroke="#111" stroke-width="1.1"><tspan stroke-width="2.1" stroke-linejoin="round" stroke-linecap="round">-</tspan>5000</text>
<text transform="translate(456.76 844.22) scale(0.7900 1)" font-family='"Liberation Sans", sans-serif' font-weight="normal" font-size="30.60" fill="#111" stroke="#111" stroke-width="1.1">0</text>
<text transform="translate(555.27 844.22) scale(0.7900 1)" font-family='"Liberation Sans", sans-serif' font-weight="normal" font-size="30.60" fill="#111" stroke="#111" stroke-width="1.1">5000</text>
<text transform="translate(666.78 844.22) scale(0.7900 1)" font-family='"Liberation Sans", sans-serif' font-weight="normal" font-size="30.60" fill="#111" stroke="#111" stroke-width="1.1">10000</text>
<text transform="translate(785.44 844.22) scale(0.7900 1)" font-family='"Liberation Sans", sans-serif' font-weight="normal" font-size="30.60" fill="#111" stroke="#111" stroke-width="1.1">15000</text>
<text transform="translate(296.11 898.00) scale(0.9971 1)" font-family='"Liberation Serif", serif' font-weight="bold" font-size="39.20" fill="#111">Applied Field (Oe)</text>
<text transform="translate(32.20 585.68) rotate(-90) scale(0.9630 1)" font-family='"Liberation Serif", serif' font-weight="bold" font-size="40.50" fill="#111">Magnetization (cmu/g)</text>
<text transform="translate(121.78 78.91) scale(0.7405 1)" font-family='"Liberation Serif", serif' font-weight="normal" font-size="54.55" fill="#111" stroke="#111" stroke-width="1.3">(a)</text>
<line x1="965.20" y1="400.80" x2="1665.90" y2="400.80" stroke="#555555" stroke-width="2.8" stroke-linecap="round"/>
<line x1="1316.60" y1="28.70" x2="1316.60" y2="775.00" stroke="#4a4a4a" stroke-width="2.8" stroke-linecap="round"/>
<path d="M1083.8 704.6L1086.3 703.6L1088.7 702.6L1091.2 701.6L1093.7 700.7L1096.2 699.7L1098.8 698.9L1101.3 698.0L1103.9 697.1L1106.5 696.3L1109.0 695.5L1111.7 694.7L1114.3 693.9L1116.9 693.2L1119.5 692.4L1122.2 691.7L1124.9 691.0L1127.5 690.3L1130.2 689.6L1132.9 688.9L1135.6 688.2L1138.3 687.5L1141.0 686.9L1143.7 686.2L1146.4 685.5L1149.1 684.8L1151.8 684.2L1154.6 683.5L1157.3 682.8L1160.0 682.1L1162.7 681.4L1165.4 680.7L1168.2 680.0L1170.9 679.3L1173.6 678.6L1176.3 677.8L1179.0 677.1L1181.7 676.3L1184.4 675.5L1187.1 674.7L1189.8 673.8L1192.4 673.0L1195.1 672.1L1197.8 671.2L1200.4 670.3L1203.0 669.4L1205.7 668.4L1208.3 667.4L1210.9 666.3L1213.4 665.3L1216.0 664.2L1218.6 663.1L1221.1 661.9L1223.6 660.7L1226.1 659.5L1228.6 658.2L1231.1 656.9L1233.5 655.5L1235.9 654.2L1238.3 652.8L1240.7 651.3L1243.0 649.8L1245.3 648.3L1247.6 646.8L1249.8 645.2L1252.1 643.6L1254.2 642.0L1256.4 640.3L1258.5 638.6L1260.6 636.8L1262.6 635.0L1264.6 633.2L1266.5 631.4L1268.4 629.5L1270.3 627.6L1272.1 625.6L1273.9 623.6L1275.6 621.6L1277.3 619.6L1278.9 617.5L1280.5 615.4L1282.0 613.2L1283.5 611.0L1284.9 608.8L1286.2 606.6L1287.5 604.3L1288.8 601.9L1289.9 599.6L1291.1 597.2L1292.1 594.8L1293.1 592.4L1294.1 589.9L1295.0 587.4L1295.9 584.9L1296.7 582.3L1297.4 579.7L1298.2 577.1L1298.9 574.5L1299.5 571.9L1300.1 569.2L1300.7 566.5L1301.2 563.8L1301.7 561.1L1302.2 558.4L1302.6 555.6L1303.0 552.9L1303.4 550.1L1303.8 547.3L1304.1 544.6L1304.4 541.8L1304.7 538.9L1305.0 536.1L1305.3 533.3L1305.5 530.5L1305.8 527.7L1306.0 524.8L1306.2 522.0L1306.5 519.2L1306.7 516.4L1306.9 513.5L1307.1 510.7L1307.3 507.9L1307.5 505.1L1307.7 502.3L1307.9 499.5L1308.1 496.7L1308.4 493.9L1308.6 491.1L1308.8 488.4L1309.1 485.6L1309.3 482.8L1309.5 480.1L1309.8 477.3L1310.0 474.6L1310.3 471.8L1310.5 469.1L1310.7 466.4L1311.0 463.6L1311.2 460.9L1311.5 458.2L1311.7 455.5L1312.0 452.8L1312.2 450.0L1312.5 447.3L1312.7 444.6L1313.0 441.9L1313.2 439.2L1313.4 436.5L1313.7 433.8L1313.9 431.1L1314.1 428.4L1314.4 425.7L1314.6 423.0L1314.8 420.3L1315.1 417.5L1315.3 414.8L1315.5 412.1L1315.7 409.4L1315.9 406.7L1316.1 404.0L1316.3 401.3L1316.5 398.6L1316.7 395.9L1316.9 393.1L1317.1 390.4L1317.2 387.7L1317.4 385.0L1317.6 382.2L1317.8 379.5L1317.9 376.8L1318.1 374.0L1318.3 371.3L1318.4 368.6L1318.6 365.8L1318.7 363.1L1318.9 360.3L1319.1 357.6L1319.2 354.8L1319.4 352.1L1319.5 349.3L1319.7 346.6L1319.9 343.8L1320.0 341.1L1320.2 338.3L1320.4 335.6L1320.5 332.8L1320.7 330.0L1320.9 327.3L1321.1 324.5L1321.3 321.8L1321.5 319.0L1321.7 316.2L1321.9 313.5L1322.1 310.7L1322.3 307.9L1322.5 305.1L1322.7 302.4L1323.0 299.6L1323.2 296.8L1323.5 294.0L1323.7 291.3L1324.0 288.5L1324.3 285.7L1324.5 282.9L1324.8 280.2L1325.1 277.4L1325.4 274.6L1325.8 271.8L1326.1 269.0L1326.4 266.3L1326.8 263.5L1327.2 260.7L1327.5 257.9L1327.9 255.1L1328.4 252.4L1328.8 249.6L1329.2 246.9L1329.7 244.1L1330.2 241.4L1330.8 238.7L1331.3 236.0L1331.9 233.3L1332.5 230.6L1333.2 227.9L1333.9 225.3L1334.6 222.7L1335.3 220.1L1336.1 217.5L1336.9 214.9L1337.8 212.4L1338.7 209.9L1339.7 207.4L1340.7 205.0L1341.7 202.6L1342.8 200.2L1344.0 197.8L1345.2 195.5L1346.4 193.2L1347.7 191.0L1349.1 188.8L1350.5 186.6L1352.0 184.5L1353.5 182.4L1355.1 180.3L1356.8 178.3L1358.5 176.3L1360.3 174.4L1362.1 172.5L1364.0 170.7L1365.9 168.8L1367.9 167.1L1369.9 165.3L1372.0 163.6L1374.1 162.0L1376.2 160.3L1378.4 158.7L1380.7 157.2L1382.9 155.7L1385.2 154.2L1387.6 152.7L1390.0 151.3L1392.4 149.9L1394.8 148.5L1397.3 147.2L1399.8 145.9L1402.3 144.6L1404.8 143.4L1407.4 142.2L1410.0 141.0L1412.6 139.8L1415.2 138.7L1417.9 137.6L1420.5 136.5L1423.2 135.5L1425.9 134.4L1428.5 133.4L1431.2 132.5L1433.9 131.5L1436.6 130.6L1439.3 129.7L1442.1 128.8L1444.8 127.9L1447.5 127.1L1450.2 126.2L1452.9 125.4L1455.6 124.6L1458.3 123.9L1461.0 123.1L1463.7 122.4L1466.4 121.7L1469.1 121.0L1471.8 120.3L1474.5 119.6L1477.2 118.9L1479.9 118.2L1482.6 117.6L1485.3 116.9L1488.0 116.3L1490.7 115.7L1493.3 115.0L1496.0 114.4L1498.7 113.8L1501.4 113.2L1504.0 112.6L1506.7 112.0L1509.3 111.4L1512.0 110.8L1514.6 110.2L1517.3 109.6L1519.9 108.9L1522.5 108.3L1525.2 107.7L1527.8 107.1L1530.4 106.5L1533.0 105.8L1535.6 105.2L1538.2 104.5L1540.8 103.9L1543.4 103.2L1546.0 102.5" fill="none" stroke="#fff" stroke-width="12.80" stroke-linecap="round" stroke-linejoin="round"/>
<path d="M1083.8 704.6L1086.3 703.6L1088.7 702.6L1091.2 701.6L1093.7 700.7L1096.2 699.7L1098.8 698.9L1101.3 698.0L1103.9 697.1L1106.5 696.3L1109.0 695.5L1111.7 694.7L1114.3 693.9L1116.9 693.2L1119.5 692.4L1122.2 691.7L1124.9 691.0L1127.5 690.3L1130.2 689.6L1132.9 688.9L1135.6 688.2L1138.3 687.5L1141.0 686.9L1143.7 686.2L1146.4 685.5L1149.1 684.8L1151.8 684.2L1154.6 683.5L1157.3 682.8L1160.0 682.1L1162.7 681.4L1165.4 680.7L1168.2 680.0L1170.9 679.3L1173.6 678.6L1176.3 677.8L1179.0 677.1L1181.7 676.3L1184.4 675.5L1187.1 674.7L1189.8 673.8L1192.4 673.0L1195.1 672.1L1197.8 671.2L1200.4 670.3L1203.0 669.4L1205.7 668.4L1208.3 667.4L1210.9 666.3L1213.4 665.3L1216.0 664.2L1218.6 663.1L1221.1 661.9L1223.6 660.7L1226.1 659.5L1228.6 658.2L1231.1 656.9L1233.5 655.5L1235.9 654.2L1238.3 652.8L1240.7 651.3L1243.0 649.8L1245.3 648.3L1247.6 646.8L1249.8 645.2L1252.1 643.6L1254.2 642.0L1256.4 640.3L1258.5 638.6L1260.6 636.8L1262.6 635.0L1264.6 633.2L1266.5 631.4L1268.4 629.5L1270.3 627.6L1272.1 625.6L1273.9 623.6L1275.6 621.6L1277.3 619.6L1278.9 617.5L1280.5 615.4L1282.0 613.2L1283.5 611.0L1284.9 608.8L1286.2 606.6L1287.5 604.3L1288.8 601.9L1289.9 599.6L1291.1 597.2L1292.1 594.8L1293.1 592.4L1294.1 589.9L1295.0 587.4L1295.9 584.9L1296.7 582.3L1297.4 579.7L1298.2 577.1L1298.9 574.5L1299.5 571.9L1300.1 569.2L1300.7 566.5L1301.2 563.8L1301.7 561.1L1302.2 558.4L1302.6 555.6L1303.0 552.9L1303.4 550.1L1303.8 547.3L1304.1 544.6L1304.4 541.8L1304.7 538.9L1305.0 536.1L1305.3 533.3L1305.5 530.5L1305.8 527.7L1306.0 524.8L1306.2 522.0L1306.5 519.2L1306.7 516.4L1306.9 513.5L1307.1 510.7L1307.3 507.9L1307.5 505.1L1307.7 502.3L1307.9 499.5L1308.1 496.7L1308.4 493.9L1308.6 491.1L1308.8 488.4L1309.1 485.6L1309.3 482.8L1309.5 480.1L1309.8 477.3L1310.0 474.6L1310.3 471.8L1310.5 469.1L1310.7 466.4L1311.0 463.6L1311.2 460.9L1311.5 458.2L1311.7 455.5L1312.0 452.8L1312.2 450.0L1312.5 447.3L1312.7 444.6L1313.0 441.9L1313.2 439.2L1313.4 436.5L1313.7 433.8L1313.9 431.1L1314.1 428.4L1314.4 425.7L1314.6 423.0L1314.8 420.3L1315.1 417.5L1315.3 414.8L1315.5 412.1L1315.7 409.4L1315.9 406.7L1316.1 404.0L1316.3 401.3L1316.5 398.6L1316.7 395.9L1316.9 393.1L1317.1 390.4L1317.2 387.7L1317.4 385.0L1317.6 382.2L1317.8 379.5L1317.9 376.8L1318.1 374.0L1318.3 371.3L1318.4 368.6L1318.6 365.8L1318.7 363.1L1318.9 360.3L1319.1 357.6L1319.2 354.8L1319.4 352.1L1319.5 349.3L1319.7 346.6L1319.9 343.8L1320.0 341.1L1320.2 338.3L1320.4 335.6L1320.5 332.8L1320.7 330.0L1320.9 327.3L1321.1 324.5L1321.3 321.8L1321.5 319.0L1321.7 316.2L1321.9 313.5L1322.1 310.7L1322.3 307.9L1322.5 305.1L1322.7 302.4L1323.0 299.6L1323.2 296.8L1323.5 294.0L1323.7 291.3L1324.0 288.5L1324.3 285.7L1324.5 282.9L1324.8 280.2L1325.1 277.4L1325.4 274.6L1325.8 271.8L1326.1 269.0L1326.4 266.3L1326.8 263.5L1327.2 260.7L1327.5 257.9L1327.9 255.1L1328.4 252.4L1328.8 249.6L1329.2 246.9L1329.7 244.1L1330.2 241.4L1330.8 238.7L1331.3 236.0L1331.9 233.3L1332.5 230.6L1333.2 227.9L1333.9 225.3L1334.6 222.7L1335.3 220.1L1336.1 217.5L1336.9 214.9L1337.8 212.4L1338.7 209.9L1339.7 207.4L1340.7 205.0L1341.7 202.6L1342.8 200.2L1344.0 197.8L1345.2 195.5L1346.4 193.2L1347.7 191.0L1349.1 188.8L1350.5 186.6L1352.0 184.5L1353.5 182.4L1355.1 180.3L1356.8 178.3L1358.5 176.3L1360.3 174.4L1362.1 172.5L1364.0 170.7L1365.9 168.8L1367.9 167.1L1369.9 165.3L1372.0 163.6L1374.1 162.0L1376.2 160.3L1378.4 158.7L1380.7 157.2L1382.9 155.7L1385.2 154.2L1387.6 152.7L1390.0 151.3L1392.4 149.9L1394.8 148.5L1397.3 147.2L1399.8 145.9L1402.3 144.6L1404.8 143.4L1407.4 142.2L1410.0 141.0L1412.6 139.8L1415.2 138.7L1417.9 137.6L1420.5 136.5L1423.2 135.5L1425.9 134.4L1428.5 133.4L1431.2 132.5L1433.9 131.5L1436.6 130.6L1439.3 129.7L1442.1 128.8L1444.8 127.9L1447.5 127.1L1450.2 126.2L1452.9 125.4L1455.6 124.6L1458.3 123.9L1461.0 123.1L1463.7 122.4L1466.4 121.7L1469.1 121.0L1471.8 120.3L1474.5 119.6L1477.2 118.9L1479.9 118.2L1482.6 117.6L1485.3 116.9L1488.0 116.3L1490.7 115.7L1493.3 115.0L1496.0 114.4L1498.7 113.8L1501.4 113.2L1504.0 112.6L1506.7 112.0L1509.3 111.4L1512.0 110.8L1514.6 110.2L1517.3 109.6L1519.9 108.9L1522.5 108.3L1525.2 107.7L1527.8 107.1L1530.4 106.5L1533.0 105.8L1535.6 105.2L1538.2 104.5L1540.8 103.9L1543.4 103.2L1546.0 102.5" fill="none" stroke="#111" stroke-width="6.80" stroke-linecap="round" stroke-linejoin="round"/>
<rect x="959.00" y="21.20" width="715.70" height="761.80" fill="none" stroke="#151515" stroke-width="3.6" stroke-linejoin="round"/>
<text transform="translate(907.67 30.92) scale(0.7900 1)" font-family='"Liberation Sans", sans-serif' font-weight="normal" font-size="30.60" fill="#111" stroke="#111" stroke-width="1.1">40</text>
<text transform="translate(907.67 126.14) scale(0.7900 1)" font-family='"Liberation Sans", sans-serif' font-weight="normal" font-size="30.60" fill="#111" stroke="#111" stroke-width="1.1">30</text>
<text transform="translate(907.67 221.37) scale(0.7900 1)" font-family='"Liberation Sans", sans-serif' font-weight="normal" font-size="30.60" fill="#111" stroke="#111" stroke-width="1.1">20</text>
<text transform="translate(907.67 316.59) scale(0.7900 1)" font-family='"Liberation Sans", sans-serif' font-weight="normal" font-size="30.60" fill="#111" stroke="#111" stroke-width="1.1">10</text>
<text transform="translate(921.09 411.82) scale(0.7900 1)" font-family='"Liberation Sans", sans-serif' font-weight="normal" font-size="30.60" fill="#111" stroke="#111" stroke-width="1.1">0</text>
<text transform="translate(899.58 507.04) scale(0.7900 1)" font-family='"Liberation Sans", sans-serif' font-weight="normal" font-size="30.60" fill="#111" stroke="#111" stroke-width="1.1"><tspan stroke-width="2.1" stroke-linejoin="round" stroke-linecap="round">-</tspan>10</text>
<text transform="translate(899.58 602.27) scale(0.7900 1)" font-family='"Liberation Sans", sans-serif' font-weight="normal" font-size="30.60" fill="#111" stroke="#111" stroke-width="1.1"><tspan stroke-width="2.1" stroke-linejoin="round" stroke-linecap="round">-</tspan>20</text>
<text transform="translate(899.58 697.49) scale(0.7900 1)" font-family='"Liberation Sans", sans-serif' font-weight="normal" font-size="30.60" fill="#111" stroke="#111" stroke-width="1.1"><tspan stroke-width="2.1" stroke-linejoin="round" stroke-linecap="round">-</tspan>30</text>
<text transform="translate(899.58 792.72) scale(0.7900 1)" font-family='"Liberation Sans", sans-serif' font-weight="normal" font-size="30.60" fill="#111" stroke="#111" stroke-width="1.1"><tspan stroke-width="2.1" stroke-linejoin="round" stroke-linecap="round">-</tspan>40</text>
<text transform="translate(921.29 836.32) scale(0.7900 1)" font-family='"Liberation Sans", sans-serif' font-weight="normal" font-size="30.60" fill="#111" stroke="#111" stroke-width="1.1"><tspan stroke-width="2.1" stroke-linejoin="round" stroke-linecap="round">-</tspan>15000</text>
<text transform="translate(1040.57 836.32) scale(0.7900 1)" font-family='"Liberation Sans", sans-serif' font-weight="normal" font-size="30.60" fill="#111" stroke="#111" stroke-width="1.1"><tspan stroke-width="2.1" stroke-linejoin="round" stroke-linecap="round">-</tspan>10000</text>
<text transform="translate(1166.56 836.32) scale(0.7900 1)" font-family='"Liberation Sans", sans-serif' font-weight="normal" font-size="30.60" fill="#111" stroke="#111" stroke-width="1.1"><tspan stroke-width="2.1" stroke-linejoin="round" stroke-linecap="round">-</tspan>5000</text>
<text transform="translate(1310.11 836.32) scale(0.7900 1)" font-family='"Liberation Sans", sans-serif' font-weight="normal" font-size="30.60" fill="#111" stroke="#111" stroke-width="1.1">0</text>
<text transform="translate(1409.24 836.32) scale(0.7900 1)" font-family='"Liberation Sans", sans-serif' font-weight="normal" font-size="30.60" fill="#111" stroke="#111" stroke-width="1.1">5000</text>
<text transform="translate(1521.36 836.32) scale(0.7900 1)" font-family='"Liberation Sans", sans-serif' font-weight="normal" font-size="30.60" fill="#111" stroke="#111" stroke-width="1.1">10000</text>
<text transform="translate(1640.64 836.32) scale(0.7900 1)" font-family='"Liberation Sans", sans-serif' font-weight="normal" font-size="30.60" fill="#111" stroke="#111" stroke-width="1.1">15000</text>
<text transform="translate(1158.11 898.00) scale(0.9946 1)" font-family='"Liberation Serif", serif' font-weight="bold" font-size="39.20" fill="#111">Applied Field (Oe)</text>
<text transform="translate(889.60 584.18) rotate(-90) scale(0.9651 1)" font-family='"Liberation Serif", serif' font-weight="bold" font-size="40.50" fill="#111">Magnetization (cmu/g)</text>
<text transform="translate(974.60 85.47) scale(0.7689 1)" font-family='"Liberation Serif", serif' font-weight="normal" font-size="51.90" fill="#111" stroke="#111" stroke-width="1.3">(b)</text>
<line x1="108.80" y1="1355.60" x2="806.70" y2="1355.60" stroke="#5e5e5e" stroke-width="2.8" stroke-linecap="round"/>
<line x1="459.00" y1="977.50" x2="459.00" y2="1731.80" stroke="#787878" stroke-width="2.8" stroke-linecap="round"/>
<path d="M228.9 1681.9L231.4 1681.0L234.0 1680.1L236.5 1679.2L239.1 1678.3L241.6 1677.4L244.2 1676.5L246.8 1675.5L249.3 1674.6L251.9 1673.7L254.5 1672.7L257.2 1671.8L259.8 1670.9L262.4 1669.9L265.0 1668.9L267.6 1668.0L270.3 1667.0L272.9 1666.0L275.5 1665.0L278.2 1664.0L280.8 1663.0L283.4 1662.0L286.0 1660.9L288.7 1659.9L291.3 1658.8L293.9 1657.7L296.5 1656.6L299.1 1655.5L301.7 1654.4L304.3 1653.3L306.9 1652.1L309.5 1650.9L312.0 1649.8L314.6 1648.6L317.1 1647.3L319.6 1646.1L322.2 1644.9L324.7 1643.6L327.2 1642.3L329.6 1641.0L332.1 1639.6L334.5 1638.3L337.0 1636.9L339.4 1635.5L341.7 1634.1L344.1 1632.6L346.5 1631.2L348.8 1629.7L351.1 1628.2L353.4 1626.6L355.6 1625.1L357.9 1623.5L360.1 1621.8L362.3 1620.2L364.4 1618.5L366.6 1616.8L368.7 1615.1L370.7 1613.3L372.8 1611.5L374.8 1609.7L376.8 1607.9L378.8 1606.0L380.7 1604.2L382.7 1602.3L384.6 1600.3L386.4 1598.4L388.3 1596.4L390.1 1594.4L391.9 1592.4L393.6 1590.4L395.4 1588.3L397.1 1586.2L398.8 1584.1L400.4 1582.0L402.0 1579.9L403.6 1577.7L405.2 1575.6L406.7 1573.4L408.3 1571.2L409.7 1568.9L411.2 1566.7L412.6 1564.4L414.0 1562.1L415.4 1559.8L416.7 1557.5L418.0 1555.2L419.3 1552.8L420.7 1550.5L422.0 1548.2L423.3 1545.8L424.6 1543.5L425.8 1541.1L427.0 1538.6L427.9 1536.1L428.8 1533.6L429.7 1531.0L430.5 1528.4L431.3 1525.9L432.1 1523.3L432.9 1520.7L433.7 1518.1L434.4 1515.5L435.1 1512.9L435.8 1510.3L436.5 1507.6L437.1 1505.0L437.8 1502.3L438.4 1499.7L439.1 1497.0L439.7 1494.4L440.4 1491.7L441.0 1489.0L441.5 1486.3L442.1 1483.6L442.6 1480.9L443.1 1478.2L443.6 1475.5L444.1 1472.8L444.6 1470.0L445.0 1467.3L445.5 1464.5L445.9 1461.8L446.3 1459.0L446.7 1456.3L447.0 1453.5L447.4 1450.7L447.7 1447.9L448.1 1445.2L448.4 1442.4L448.7 1439.6L449.1 1436.8L449.4 1434.0L449.6 1431.2L449.9 1428.4L450.2 1425.6L450.5 1422.8L450.7 1420.0L451.0 1417.2L451.2 1414.5L451.5 1411.7L451.7 1408.9L452.0 1406.1L452.2 1403.3L452.4 1400.5L452.6 1397.7L452.8 1395.0L453.1 1392.2L453.3 1389.4L453.5 1386.6L453.7 1383.9L453.9 1381.1L454.1 1378.3L454.3 1375.6L454.5 1372.8L454.7 1370.1L454.9 1367.3L455.1 1364.5L455.3 1361.8L455.5 1359.0L455.7 1356.3L455.9 1353.5L456.1 1350.7L456.3 1348.0L456.5 1345.2L456.7 1342.5L456.9 1339.7L457.2 1337.0L457.4 1334.2L457.6 1331.5L457.8 1328.7L458.0 1325.9L458.2 1323.2L458.4 1320.4L458.7 1317.6L458.9 1314.9L459.1 1312.1L459.4 1309.3L459.6 1306.6L459.8 1303.8L460.1 1301.0L460.3 1298.2L460.6 1295.5L460.9 1292.7L461.1 1289.9L461.4 1287.1L461.7 1284.3L462.0 1281.5L462.3 1278.7L462.6 1275.9L462.9 1273.1L463.2 1270.3L463.5 1267.4L463.8 1264.6L464.2 1261.8L464.5 1259.0L464.9 1256.2L465.2 1253.4L465.6 1250.5L466.0 1247.7L466.4 1244.9L466.9 1242.1L467.3 1239.3L467.8 1236.5L468.2 1233.7L468.7 1230.9L469.2 1228.1L469.7 1225.3L470.3 1222.5L470.8 1219.7L471.4 1216.9L472.0 1214.2L472.7 1211.4L473.3 1208.7L474.0 1205.9L474.7 1203.2L475.4 1200.5L476.2 1197.7L477.0 1195.1L477.8 1192.4L478.7 1189.7L479.5 1187.0L480.4 1184.4L481.4 1181.8L482.5 1179.2L483.6 1176.6L484.8 1174.1L485.9 1171.6L487.1 1169.1L488.3 1166.6L489.6 1164.1L491.0 1161.7L492.3 1159.3L493.7 1156.9L495.1 1154.6L496.3 1152.1L497.5 1149.6L498.7 1147.2L500.0 1144.7L501.3 1142.4L502.8 1140.1L504.3 1137.8L505.8 1135.5L507.3 1133.2L508.9 1131.0L510.5 1128.8L512.2 1126.6L513.9 1124.4L515.6 1122.3L517.3 1120.2L519.1 1118.1L520.9 1116.1L522.7 1114.0L524.6 1112.0L526.5 1110.0L528.4 1108.1L530.4 1106.1L532.4 1104.2L534.4 1102.4L536.4 1100.5L538.5 1098.7L540.6 1096.9L542.8 1095.1L544.9 1093.4L547.1 1091.7L549.3 1090.0L551.5 1088.3L553.8 1086.7L556.1 1085.1L558.4 1083.5L560.7 1081.9L563.1 1080.4L565.4 1078.9L567.8 1077.4L570.2 1075.9L572.6 1074.4L575.0 1073.0L577.5 1071.5L579.9 1070.1L582.4 1068.8L584.9 1067.4L587.4 1066.0L589.9 1064.7L592.5 1063.4L595.0 1062.1L597.6 1060.8L600.1 1059.6L602.7 1058.3L605.3 1057.1L607.9 1055.9L610.5 1054.7L613.1 1053.6L615.7 1052.4L618.3 1051.2L620.9 1050.1L623.5 1049.0L626.2 1047.9L628.8 1046.8L631.4 1045.7L634.0 1044.6L636.7 1043.6L639.3 1042.5L641.9 1041.5L644.5 1040.5L647.2 1039.5L649.8 1038.5L652.4 1037.5L655.0 1036.5L657.6 1035.5L660.2 1034.5L662.8 1033.6L665.3 1032.6L667.9 1031.7L670.5 1030.7L673.0 1029.8L675.5 1028.9L678.1 1028.0L680.6 1027.0L683.1 1026.1L685.6 1025.2L688.0 1024.3" fill="none" stroke="#fff" stroke-width="10.80" stroke-linecap="round" stroke-linejoin="round"/>
<path d="M230.0 1685.0L232.5 1684.1L235.1 1683.2L237.6 1682.3L240.2 1681.4L242.7 1680.5L245.3 1679.6L247.9 1678.7L250.5 1677.7L253.1 1676.8L255.7 1675.9L258.3 1675.0L260.9 1674.0L263.5 1673.1L266.2 1672.1L268.8 1671.1L271.4 1670.2L274.1 1669.2L276.7 1668.2L279.4 1667.2L282.0 1666.2L284.7 1665.1L287.3 1664.1L289.9 1663.1L292.6 1662.0L295.2 1660.9L297.8 1659.8L300.5 1658.7L303.1 1657.6L305.7 1656.5L308.3 1655.3L310.9 1654.2L313.5 1653.0L316.1 1651.8L318.7 1650.5L321.2 1649.3L323.8 1648.0L326.3 1646.8L328.8 1645.5L331.3 1644.2L333.8 1642.8L336.3 1641.4L338.8 1640.1L341.2 1638.7L343.6 1637.2L346.0 1635.8L348.4 1634.3L350.8 1632.8L353.2 1631.3L355.5 1629.7L357.8 1628.1L360.1 1626.5L362.3 1624.9L364.6 1623.2L366.8 1621.5L369.0 1619.8L371.1 1618.1L373.3 1616.3L375.4 1614.6L377.5 1612.8L379.6 1610.9L381.6 1609.1L383.7 1607.2L385.7 1605.3L387.6 1603.4L389.6 1601.4L391.5 1599.5L393.4 1597.5L395.3 1595.4L397.1 1593.4L398.9 1591.3L400.7 1589.3L402.5 1587.1L404.2 1585.0L405.9 1582.9L407.6 1580.7L409.2 1578.5L410.8 1576.3L412.4 1574.0L414.0 1571.8L415.5 1569.5L417.0 1567.2L418.5 1564.9L419.9 1562.5L421.3 1560.2L422.7 1557.8L424.0 1555.4L425.2 1552.9L426.4 1550.4L427.6 1547.9L428.7 1545.4L429.8 1542.9L430.9 1540.4L432.1 1537.9L433.3 1535.5L434.5 1533.0L435.7 1530.5L436.9 1528.0L438.0 1525.4L439.0 1522.8L440.0 1520.3L441.0 1517.7L442.0 1515.0L442.9 1512.4L443.8 1509.8L444.7 1507.1L445.5 1504.4L446.2 1501.7L447.0 1499.0L447.7 1496.3L448.3 1493.6L449.0 1490.8L449.6 1488.1L450.2 1485.3L450.8 1482.6L451.4 1479.8L451.9 1477.0L452.4 1474.3L453.0 1471.5L453.4 1468.7L453.9 1465.9L454.4 1463.1L454.8 1460.3L455.3 1457.5L455.7 1454.7L456.1 1451.9L456.5 1449.1L456.8 1446.2L457.2 1443.4L457.5 1440.6L457.9 1437.8L458.2 1435.0L458.5 1432.2L458.8 1429.3L459.1 1426.5L459.4 1423.7L459.6 1420.9L459.9 1418.1L460.2 1415.3L460.4 1412.5L460.7 1409.6L460.9 1406.8L461.2 1404.1L461.4 1401.3L461.6 1398.5L461.9 1395.7L462.1 1392.9L462.3 1390.1L462.5 1387.3L462.8 1384.6L463.0 1381.8L463.2 1379.0L463.4 1376.3L463.6 1373.5L463.8 1370.7L464.1 1368.0L464.3 1365.2L464.5 1362.5L464.7 1359.7L464.9 1356.9L465.1 1354.2L465.3 1351.4L465.5 1348.7L465.7 1345.9L465.9 1343.2L466.1 1340.4L466.3 1337.7L466.5 1334.9L466.7 1332.2L467.0 1329.4L467.2 1326.7L467.4 1323.9L467.6 1321.1L467.8 1318.4L468.1 1315.6L468.3 1312.9L468.5 1310.1L468.8 1307.4L469.0 1304.6L469.3 1301.8L469.5 1299.1L469.8 1296.3L470.0 1293.5L470.3 1290.8L470.6 1288.0L470.8 1285.2L471.1 1282.4L471.4 1279.6L471.7 1276.9L472.0 1274.1L472.3 1271.3L472.6 1268.5L473.0 1265.7L473.3 1262.9L473.6 1260.1L474.0 1257.4L474.4 1254.6L474.7 1251.8L475.1 1249.0L475.5 1246.3L476.0 1243.5L476.4 1240.7L476.8 1238.0L477.3 1235.2L477.8 1232.5L478.3 1229.7L478.8 1227.0L479.3 1224.3L479.9 1221.6L480.4 1218.9L481.0 1216.2L481.6 1213.5L482.2 1210.8L482.9 1208.1L483.5 1205.5L484.2 1202.8L484.9 1200.1L485.6 1197.5L486.3 1194.9L487.0 1192.3L487.8 1189.7L488.6 1187.1L489.4 1184.5L490.1 1181.9L490.8 1179.3L491.6 1176.7L492.5 1174.2L493.3 1171.6L494.2 1169.1L495.0 1166.5L495.9 1164.0L496.9 1161.5L497.8 1159.0L498.9 1156.5L500.2 1154.2L501.6 1151.9L503.0 1149.6L504.4 1147.3L505.8 1145.0L507.1 1142.8L508.5 1140.5L510.0 1138.2L511.4 1136.0L512.9 1133.8L514.5 1131.6L516.0 1129.5L517.6 1127.3L519.2 1125.2L520.9 1123.1L522.6 1121.1L524.3 1119.0L526.1 1117.0L527.9 1115.0L529.7 1113.1L531.5 1111.1L533.4 1109.2L535.3 1107.3L537.3 1105.4L539.2 1103.6L541.2 1101.8L543.3 1100.0L545.3 1098.2L547.4 1096.5L549.5 1094.8L551.7 1093.1L553.8 1091.4L556.0 1089.8L558.3 1088.2L560.5 1086.6L562.8 1085.0L565.1 1083.4L567.4 1081.9L569.7 1080.4L572.1 1078.9L574.5 1077.5L576.8 1076.0L579.3 1074.6L581.7 1073.2L584.1 1071.8L586.6 1070.5L589.1 1069.1L591.6 1067.8L594.1 1066.5L596.6 1065.2L599.1 1064.0L601.7 1062.7L604.2 1061.5L606.8 1060.3L609.3 1059.0L611.9 1057.9L614.5 1056.7L617.1 1055.5L619.7 1054.4L622.3 1053.2L624.9 1052.1L627.5 1051.0L630.1 1049.9L632.7 1048.8L635.3 1047.8L637.9 1046.7L640.5 1045.7L643.1 1044.6L645.8 1043.6L648.4 1042.6L651.0 1041.6L653.6 1040.6L656.2 1039.6L658.8 1038.6L661.3 1037.6L663.9 1036.7L666.5 1035.7L669.0 1034.8L671.6 1033.8L674.1 1032.9L676.7 1031.9L679.2 1031.0L681.7 1030.1L684.2 1029.2L686.7 1028.3L689.1 1027.4" fill="none" stroke="#fff" stroke-width="10.80" stroke-linecap="round" stroke-linejoin="round"/>
<path d="M228.9 1681.9L231.4 1681.0L234.0 1680.1L236.5 1679.2L239.1 1678.3L241.6 1677.4L244.2 1676.5L246.8 1675.5L249.3 1674.6L251.9 1673.7L254.5 1672.7L257.2 1671.8L259.8 1670.9L262.4 1669.9L265.0 1668.9L267.6 1668.0L270.3 1667.0L272.9 1666.0L275.5 1665.0L278.2 1664.0L280.8 1663.0L283.4 1662.0L286.0 1660.9L288.7 1659.9L291.3 1658.8L293.9 1657.7L296.5 1656.6L299.1 1655.5L301.7 1654.4L304.3 1653.3L306.9 1652.1L309.5 1650.9L312.0 1649.8L314.6 1648.6L317.1 1647.3L319.6 1646.1L322.2 1644.9L324.7 1643.6L327.2 1642.3L329.6 1641.0L332.1 1639.6L334.5 1638.3L337.0 1636.9L339.4 1635.5L341.7 1634.1L344.1 1632.6L346.5 1631.2L348.8 1629.7L351.1 1628.2L353.4 1626.6L355.6 1625.1L357.9 1623.5L360.1 1621.8L362.3 1620.2L364.4 1618.5L366.6 1616.8L368.7 1615.1L370.7 1613.3L372.8 1611.5L374.8 1609.7L376.8 1607.9L378.8 1606.0L380.7 1604.2L382.7 1602.3L384.6 1600.3L386.4 1598.4L388.3 1596.4L390.1 1594.4L391.9 1592.4L393.6 1590.4L395.4 1588.3L397.1 1586.2L398.8 1584.1L400.4 1582.0L402.0 1579.9L403.6 1577.7L405.2 1575.6L406.7 1573.4L408.3 1571.2L409.7 1568.9L411.2 1566.7L412.6 1564.4L414.0 1562.1L415.4 1559.8L416.7 1557.5L418.0 1555.2L419.3 1552.8L420.7 1550.5L422.0 1548.2L423.3 1545.8L424.6 1543.5L425.8 1541.1L427.0 1538.6L427.9 1536.1L428.8 1533.6L429.7 1531.0L430.5 1528.4L431.3 1525.9L432.1 1523.3L432.9 1520.7L433.7 1518.1L434.4 1515.5L435.1 1512.9L435.8 1510.3L436.5 1507.6L437.1 1505.0L437.8 1502.3L438.4 1499.7L439.1 1497.0L439.7 1494.4L440.4 1491.7L441.0 1489.0L441.5 1486.3L442.1 1483.6L442.6 1480.9L443.1 1478.2L443.6 1475.5L444.1 1472.8L444.6 1470.0L445.0 1467.3L445.5 1464.5L445.9 1461.8L446.3 1459.0L446.7 1456.3L447.0 1453.5L447.4 1450.7L447.7 1447.9L448.1 1445.2L448.4 1442.4L448.7 1439.6L449.1 1436.8L449.4 1434.0L449.6 1431.2L449.9 1428.4L450.2 1425.6L450.5 1422.8L450.7 1420.0L451.0 1417.2L451.2 1414.5L451.5 1411.7L451.7 1408.9L452.0 1406.1L452.2 1403.3L452.4 1400.5L452.6 1397.7L452.8 1395.0L453.1 1392.2L453.3 1389.4L453.5 1386.6L453.7 1383.9L453.9 1381.1L454.1 1378.3L454.3 1375.6L454.5 1372.8L454.7 1370.1L454.9 1367.3L455.1 1364.5L455.3 1361.8L455.5 1359.0L455.7 1356.3L455.9 1353.5L456.1 1350.7L456.3 1348.0L456.5 1345.2L456.7 1342.5L456.9 1339.7L457.2 1337.0L457.4 1334.2L457.6 1331.5L457.8 1328.7L458.0 1325.9L458.2 1323.2L458.4 1320.4L458.7 1317.6L458.9 1314.9L459.1 1312.1L459.4 1309.3L459.6 1306.6L459.8 1303.8L460.1 1301.0L460.3 1298.2L460.6 1295.5L460.9 1292.7L461.1 1289.9L461.4 1287.1L461.7 1284.3L462.0 1281.5L462.3 1278.7L462.6 1275.9L462.9 1273.1L463.2 1270.3L463.5 1267.4L463.8 1264.6L464.2 1261.8L464.5 1259.0L464.9 1256.2L465.2 1253.4L465.6 1250.5L466.0 1247.7L466.4 1244.9L466.9 1242.1L467.3 1239.3L467.8 1236.5L468.2 1233.7L468.7 1230.9L469.2 1228.1L469.7 1225.3L470.3 1222.5L470.8 1219.7L471.4 1216.9L472.0 1214.2L472.7 1211.4L473.3 1208.7L474.0 1205.9L474.7 1203.2L475.4 1200.5L476.2 1197.7L477.0 1195.1L477.8 1192.4L478.7 1189.7L479.5 1187.0L480.4 1184.4L481.4 1181.8L482.5 1179.2L483.6 1176.6L484.8 1174.1L485.9 1171.6L487.1 1169.1L488.3 1166.6L489.6 1164.1L491.0 1161.7L492.3 1159.3L493.7 1156.9L495.1 1154.6L496.3 1152.1L497.5 1149.6L498.7 1147.2L500.0 1144.7L501.3 1142.4L502.8 1140.1L504.3 1137.8L505.8 1135.5L507.3 1133.2L508.9 1131.0L510.5 1128.8L512.2 1126.6L513.9 1124.4L515.6 1122.3L517.3 1120.2L519.1 1118.1L520.9 1116.1L522.7 1114.0L524.6 1112.0L526.5 1110.0L528.4 1108.1L530.4 1106.1L532.4 1104.2L534.4 1102.4L536.4 1100.5L538.5 1098.7L540.6 1096.9L542.8 1095.1L544.9 1093.4L547.1 1091.7L549.3 1090.0L551.5 1088.3L553.8 1086.7L556.1 1085.1L558.4 1083.5L560.7 1081.9L563.1 1080.4L565.4 1078.9L567.8 1077.4L570.2 1075.9L572.6 1074.4L575.0 1073.0L577.5 1071.5L579.9 1070.1L582.4 1068.8L584.9 1067.4L587.4 1066.0L589.9 1064.7L592.5 1063.4L595.0 1062.1L597.6 1060.8L600.1 1059.6L602.7 1058.3L605.3 1057.1L607.9 1055.9L610.5 1054.7L613.1 1053.6L615.7 1052.4L618.3 1051.2L620.9 1050.1L623.5 1049.0L626.2 1047.9L628.8 1046.8L631.4 1045.7L634.0 1044.6L636.7 1043.6L639.3 1042.5L641.9 1041.5L644.5 1040.5L647.2 1039.5L649.8 1038.5L652.4 1037.5L655.0 1036.5L657.6 1035.5L660.2 1034.5L662.8 1033.6L665.3 1032.6L667.9 1031.7L670.5 1030.7L673.0 1029.8L675.5 1028.9L678.1 1028.0L680.6 1027.0L683.1 1026.1L685.6 1025.2L688.0 1024.3L689.1 1027.4L686.7 1028.3L684.2 1029.2L681.7 1030.1L679.2 1031.0L676.7 1031.9L674.1 1032.9L671.6 1033.8L669.0 1034.8L666.5 1035.7L663.9 1036.7L661.3 1037.6L658.8 1038.6L656.2 1039.6L653.6 1040.6L651.0 1041.6L648.4 1042.6L645.8 1043.6L643.1 1044.6L640.5 1045.7L637.9 1046.7L635.3 1047.8L632.7 1048.8L630.1 1049.9L627.5 1051.0L624.9 1052.1L622.3 1053.2L619.7 1054.4L617.1 1055.5L614.5 1056.7L611.9 1057.9L609.3 1059.0L606.8 1060.3L604.2 1061.5L601.7 1062.7L599.1 1064.0L596.6 1065.2L594.1 1066.5L591.6 1067.8L589.1 1069.1L586.6 1070.5L584.1 1071.8L581.7 1073.2L579.3 1074.6L576.8 1076.0L574.5 1077.5L572.1 1078.9L569.7 1080.4L567.4 1081.9L565.1 1083.4L562.8 1085.0L560.5 1086.6L558.3 1088.2L556.0 1089.8L553.8 1091.4L551.7 1093.1L549.5 1094.8L547.4 1096.5L545.3 1098.2L543.3 1100.0L541.2 1101.8L539.2 1103.6L537.3 1105.4L535.3 1107.3L533.4 1109.2L531.5 1111.1L529.7 1113.1L527.9 1115.0L526.1 1117.0L524.3 1119.0L522.6 1121.1L520.9 1123.1L519.2 1125.2L517.6 1127.3L516.0 1129.5L514.5 1131.6L512.9 1133.8L511.4 1136.0L510.0 1138.2L508.5 1140.5L507.1 1142.8L505.8 1145.0L504.4 1147.3L503.0 1149.6L501.6 1151.9L500.2 1154.2L498.9 1156.5L497.8 1159.0L496.9 1161.5L495.9 1164.0L495.0 1166.5L494.2 1169.1L493.3 1171.6L492.5 1174.2L491.6 1176.7L490.8 1179.3L490.1 1181.9L489.4 1184.5L488.6 1187.1L487.8 1189.7L487.0 1192.3L486.3 1194.9L485.6 1197.5L484.9 1200.1L484.2 1202.8L483.5 1205.5L482.9 1208.1L482.2 1210.8L481.6 1213.5L481.0 1216.2L480.4 1218.9L479.9 1221.6L479.3 1224.3L478.8 1227.0L478.3 1229.7L477.8 1232.5L477.3 1235.2L476.8 1238.0L476.4 1240.7L476.0 1243.5L475.5 1246.3L475.1 1249.0L474.7 1251.8L474.4 1254.6L474.0 1257.4L473.6 1260.1L473.3 1262.9L473.0 1265.7L472.6 1268.5L472.3 1271.3L472.0 1274.1L471.7 1276.9L471.4 1279.6L471.1 1282.4L470.8 1285.2L470.6 1288.0L470.3 1290.8L470.0 1293.5L469.8 1296.3L469.5 1299.1L469.3 1301.8L469.0 1304.6L468.8 1307.4L468.5 1310.1L468.3 1312.9L468.1 1315.6L467.8 1318.4L467.6 1321.1L467.4 1323.9L467.2 1326.7L467.0 1329.4L466.7 1332.2L466.5 1334.9L466.3 1337.7L466.1 1340.4L465.9 1343.2L465.7 1345.9L465.5 1348.7L465.3 1351.4L465.1 1354.2L464.9 1356.9L464.7 1359.7L464.5 1362.5L464.3 1365.2L464.1 1368.0L463.8 1370.7L463.6 1373.5L463.4 1376.3L463.2 1379.0L463.0 1381.8L462.8 1384.6L462.5 1387.3L462.3 1390.1L462.1 1392.9L461.9 1395.7L461.6 1398.5L461.4 1401.3L461.2 1404.1L460.9 1406.8L460.7 1409.6L460.4 1412.5L460.2 1415.3L459.9 1418.1L459.6 1420.9L459.4 1423.7L459.1 1426.5L458.8 1429.3L458.5 1432.2L458.2 1435.0L457.9 1437.8L457.5 1440.6L457.2 1443.4L456.8 1446.2L456.5 1449.1L456.1 1451.9L455.7 1454.7L455.3 1457.5L454.8 1460.3L454.4 1463.1L453.9 1465.9L453.4 1468.7L453.0 1471.5L452.4 1474.3L451.9 1477.0L451.4 1479.8L450.8 1482.6L450.2 1485.3L449.6 1488.1L449.0 1490.8L448.3 1493.6L447.7 1496.3L447.0 1499.0L446.2 1501.7L445.5 1504.4L444.7 1507.1L443.8 1509.8L442.9 1512.4L442.0 1515.0L441.0 1517.7L440.0 1520.3L439.0 1522.8L438.0 1525.4L436.9 1528.0L435.7 1530.5L434.5 1533.0L433.3 1535.5L432.1 1537.9L430.9 1540.4L429.8 1542.9L428.7 1545.4L427.6 1547.9L426.4 1550.4L425.2 1552.9L424.0 1555.4L422.7 1557.8L421.3 1560.2L419.9 1562.5L418.5 1564.9L417.0 1567.2L415.5 1569.5L414.0 1571.8L412.4 1574.0L410.8 1576.3L409.2 1578.5L407.6 1580.7L405.9 1582.9L404.2 1585.0L402.5 1587.1L400.7 1589.3L398.9 1591.3L397.1 1593.4L395.3 1595.4L393.4 1597.5L391.5 1599.5L389.6 1601.4L387.6 1603.4L385.7 1605.3L383.7 1607.2L381.6 1609.1L379.6 1610.9L377.5 1612.8L375.4 1614.6L373.3 1616.3L371.1 1618.1L369.0 1619.8L366.8 1621.5L364.6 1623.2L362.3 1624.9L360.1 1626.5L357.8 1628.1L355.5 1629.7L353.2 1631.3L350.8 1632.8L348.4 1634.3L346.0 1635.8L343.6 1637.2L341.2 1638.7L338.8 1640.1L336.3 1641.4L333.8 1642.8L331.3 1644.2L328.8 1645.5L326.3 1646.8L323.8 1648.0L321.2 1649.3L318.7 1650.5L316.1 1651.8L313.5 1653.0L310.9 1654.2L308.3 1655.3L305.7 1656.5L303.1 1657.6L300.5 1658.7L297.8 1659.8L295.2 1660.9L292.6 1662.0L289.9 1663.1L287.3 1664.1L284.7 1665.1L282.0 1666.2L279.4 1667.2L276.7 1668.2L274.1 1669.2L271.4 1670.2L268.8 1671.1L266.2 1672.1L263.5 1673.1L260.9 1674.0L258.3 1675.0L255.7 1675.9L253.1 1676.8L250.5 1677.7L247.9 1678.7L245.3 1679.6L242.7 1680.5L240.2 1681.4L237.6 1682.3L235.1 1683.2L232.5 1684.1L230.0 1685.0Z" fill="#fff"/>
<path d="M495.1 1154.6L496.3 1152.1L497.5 1149.6L498.7 1147.2L500.0 1144.7L501.3 1142.4L502.8 1140.1L504.3 1137.8L505.8 1135.5L507.3 1133.2L508.9 1131.0L510.5 1128.8L512.2 1126.6L513.9 1124.4L515.6 1122.3L517.3 1120.2L519.1 1118.1L520.9 1116.1L522.7 1114.0L524.6 1112.0L526.5 1110.0L528.4 1108.1L530.4 1106.1L532.4 1104.2L534.4 1102.4L536.4 1100.5L538.5 1098.7L540.6 1096.9L542.8 1095.1L544.9 1093.4L547.1 1091.7L549.3 1090.0L551.5 1088.3L553.8 1086.7L556.1 1085.1L558.4 1083.5L560.7 1081.9L563.1 1080.4L565.4 1078.9L567.8 1077.4L570.2 1075.9L572.6 1074.4L575.0 1073.0L577.5 1071.5L579.9 1070.1L582.4 1068.8L584.9 1067.4L587.4 1066.0L589.9 1064.7L592.5 1063.4L595.0 1062.1L597.6 1060.8L600.1 1059.6L602.7 1058.3L605.3 1057.1L607.9 1055.9L610.5 1054.7L613.1 1053.6L615.7 1052.4L618.3 1051.2L620.9 1050.1L623.5 1049.0L626.2 1047.9L628.8 1046.8L631.4 1045.7L634.0 1044.6L636.7 1043.6L639.3 1042.5L641.9 1041.5L644.5 1040.5L647.2 1039.5L649.8 1038.5L652.4 1037.5L655.0 1036.5L657.6 1035.5L660.2 1034.5L662.8 1033.6L665.3 1032.6L667.9 1031.7L670.5 1030.7L673.0 1029.8L675.5 1028.9L678.1 1028.0L680.6 1027.0L683.1 1026.1L685.6 1025.2L688.0 1024.3L689.1 1027.4L686.7 1028.3L684.2 1029.2L681.7 1030.1L679.2 1031.0L676.7 1031.9L674.1 1032.9L671.6 1033.8L669.0 1034.8L666.5 1035.7L663.9 1036.7L661.3 1037.6L658.8 1038.6L656.2 1039.6L653.6 1040.6L651.0 1041.6L648.4 1042.6L645.8 1043.6L643.1 1044.6L640.5 1045.7L637.9 1046.7L635.3 1047.8L632.7 1048.8L630.1 1049.9L627.5 1051.0L624.9 1052.1L622.3 1053.2L619.7 1054.4L617.1 1055.5L614.5 1056.7L611.9 1057.9L609.3 1059.0L606.8 1060.3L604.2 1061.5L601.7 1062.7L599.1 1064.0L596.6 1065.2L594.1 1066.5L591.6 1067.8L589.1 1069.1L586.6 1070.5L584.1 1071.8L581.7 1073.2L579.3 1074.6L576.8 1076.0L574.5 1077.5L572.1 1078.9L569.7 1080.4L567.4 1081.9L565.1 1083.4L562.8 1085.0L560.5 1086.6L558.3 1088.2L556.0 1089.8L553.8 1091.4L551.7 1093.1L549.5 1094.8L547.4 1096.5L545.3 1098.2L543.3 1100.0L541.2 1101.8L539.2 1103.6L537.3 1105.4L535.3 1107.3L533.4 1109.2L531.5 1111.1L529.7 1113.1L527.9 1115.0L526.1 1117.0L524.3 1119.0L522.6 1121.1L520.9 1123.1L519.2 1125.2L517.6 1127.3L516.0 1129.5L514.5 1131.6L512.9 1133.8L511.4 1136.0L510.0 1138.2L508.5 1140.5L507.1 1142.8L505.8 1145.0L504.4 1147.3L503.0 1149.6L501.6 1151.9L500.2 1154.2L498.9 1156.5Z" fill="#111"/>
<path d="M228.9 1681.9L231.4 1681.0L234.0 1680.1L236.5 1679.2L239.1 1678.3L241.6 1677.4L244.2 1676.5L246.8 1675.5L249.3 1674.6L251.9 1673.7L254.5 1672.7L257.2 1671.8L259.8 1670.9L262.4 1669.9L265.0 1668.9L267.6 1668.0L270.3 1667.0L272.9 1666.0L275.5 1665.0L278.2 1664.0L280.8 1663.0L283.4 1662.0L286.0 1660.9L288.7 1659.9L291.3 1658.8L293.9 1657.7L296.5 1656.6L299.1 1655.5L301.7 1654.4L304.3 1653.3L306.9 1652.1L309.5 1650.9L312.0 1649.8L314.6 1648.6L317.1 1647.3L319.6 1646.1L322.2 1644.9L324.7 1643.6L327.2 1642.3L329.6 1641.0L332.1 1639.6L334.5 1638.3L337.0 1636.9L339.4 1635.5L341.7 1634.1L344.1 1632.6L346.5 1631.2L348.8 1629.7L351.1 1628.2L353.4 1626.6L355.6 1625.1L357.9 1623.5L360.1 1621.8L362.3 1620.2L364.4 1618.5L366.6 1616.8L368.7 1615.1L370.7 1613.3L372.8 1611.5L374.8 1609.7L376.8 1607.9L378.8 1606.0L380.7 1604.2L382.7 1602.3L384.6 1600.3L386.4 1598.4L388.3 1596.4L390.1 1594.4L391.9 1592.4L393.6 1590.4L395.4 1588.3L397.1 1586.2L398.8 1584.1L400.4 1582.0L402.0 1579.9L403.6 1577.7L405.2 1575.6L406.7 1573.4L408.3 1571.2L409.7 1568.9L411.2 1566.7L412.6 1564.4L414.0 1562.1L415.4 1559.8L416.7 1557.5L418.0 1555.2L419.3 1552.8L420.7 1550.5L422.0 1548.2L423.3 1545.8L424.6 1543.5L425.8 1541.1L429.8 1542.9L428.7 1545.4L427.6 1547.9L426.4 1550.4L425.2 1552.9L424.0 1555.4L422.7 1557.8L421.3 1560.2L419.9 1562.5L418.5 1564.9L417.0 1567.2L415.5 1569.5L414.0 1571.8L412.4 1574.0L410.8 1576.3L409.2 1578.5L407.6 1580.7L405.9 1582.9L404.2 1585.0L402.5 1587.1L400.7 1589.3L398.9 1591.3L397.1 1593.4L395.3 1595.4L393.4 1597.5L391.5 1599.5L389.6 1601.4L387.6 1603.4L385.7 1605.3L383.7 1607.2L381.6 1609.1L379.6 1610.9L377.5 1612.8L375.4 1614.6L373.3 1616.3L371.1 1618.1L369.0 1619.8L366.8 1621.5L364.6 1623.2L362.3 1624.9L360.1 1626.5L357.8 1628.1L355.5 1629.7L353.2 1631.3L350.8 1632.8L348.4 1634.3L346.0 1635.8L343.6 1637.2L341.2 1638.7L338.8 1640.1L336.3 1641.4L333.8 1642.8L331.3 1644.2L328.8 1645.5L326.3 1646.8L323.8 1648.0L321.2 1649.3L318.7 1650.5L316.1 1651.8L313.5 1653.0L310.9 1654.2L308.3 1655.3L305.7 1656.5L303.1 1657.6L300.5 1658.7L297.8 1659.8L295.2 1660.9L292.6 1662.0L289.9 1663.1L287.3 1664.1L284.7 1665.1L282.0 1666.2L279.4 1667.2L276.7 1668.2L274.1 1669.2L271.4 1670.2L268.8 1671.1L266.2 1672.1L263.5 1673.1L260.9 1674.0L258.3 1675.0L255.7 1675.9L253.1 1676.8L250.5 1677.7L247.9 1678.7L245.3 1679.6L242.7 1680.5L240.2 1681.4L237.6 1682.3L235.1 1683.2L232.5 1684.1L230.0 1685.0Z" fill="#111"/>
<path d="M228.9 1681.9L231.4 1681.0L234.0 1680.1L236.5 1679.2L239.1 1678.3L241.6 1677.4L244.2 1676.5L246.8 1675.5L249.3 1674.6L251.9 1673.7L254.5 1672.7L257.2 1671.8L259.8 1670.9L262.4 1669.9L265.0 1668.9L267.6 1668.0L270.3 1667.0L272.9 1666.0L275.5 1665.0L278.2 1664.0L280.8 1663.0L283.4 1662.0L286.0 1660.9L288.7 1659.9L291.3 1658.8L293.9 1657.7L296.5 1656.6L299.1 1655.5L301.7 1654.4L304.3 1653.3L306.9 1652.1L309.5 1650.9L312.0 1649.8L314.6 1648.6L317.1 1647.3L319.6 1646.1L322.2 1644.9L324.7 1643.6L327.2 1642.3L329.6 1641.0L332.1 1639.6L334.5 1638.3L337.0 1636.9L339.4 1635.5L341.7 1634.1L344.1 1632.6L346.5 1631.2L348.8 1629.7L351.1 1628.2L353.4 1626.6L355.6 1625.1L357.9 1623.5L360.1 1621.8L362.3 1620.2L364.4 1618.5L366.6 1616.8L368.7 1615.1L370.7 1613.3L372.8 1611.5L374.8 1609.7L376.8 1607.9L378.8 1606.0L380.7 1604.2L382.7 1602.3L384.6 1600.3L386.4 1598.4L388.3 1596.4L390.1 1594.4L391.9 1592.4L393.6 1590.4L395.4 1588.3L397.1 1586.2L398.8 1584.1L400.4 1582.0L402.0 1579.9L403.6 1577.7L405.2 1575.6L406.7 1573.4L408.3 1571.2L409.7 1568.9L411.2 1566.7L412.6 1564.4L414.0 1562.1L415.4 1559.8L416.7 1557.5L418.0 1555.2L419.3 1552.8L420.7 1550.5L422.0 1548.2L423.3 1545.8L424.6 1543.5L425.8 1541.1L427.0 1538.6L427.9 1536.1L428.8 1533.6L429.7 1531.0L430.5 1528.4L431.3 1525.9L432.1 1523.3L432.9 1520.7L433.7 1518.1L434.4 1515.5L435.1 1512.9L435.8 1510.3L436.5 1507.6L437.1 1505.0L437.8 1502.3L438.4 1499.7L439.1 1497.0L439.7 1494.4L440.4 1491.7L441.0 1489.0L441.5 1486.3L442.1 1483.6L442.6 1480.9L443.1 1478.2L443.6 1475.5L444.1 1472.8L444.6 1470.0L445.0 1467.3L445.5 1464.5L445.9 1461.8L446.3 1459.0L446.7 1456.3L447.0 1453.5L447.4 1450.7L447.7 1447.9L448.1 1445.2L448.4 1442.4L448.7 1439.6L449.1 1436.8L449.4 1434.0L449.6 1431.2L449.9 1428.4L450.2 1425.6L450.5 1422.8L450.7 1420.0L451.0 1417.2L451.2 1414.5L451.5 1411.7L451.7 1408.9L452.0 1406.1L452.2 1403.3L452.4 1400.5L452.6 1397.7L452.8 1395.0L453.1 1392.2L453.3 1389.4L453.5 1386.6L453.7 1383.9L453.9 1381.1L454.1 1378.3L454.3 1375.6L454.5 1372.8L454.7 1370.1L454.9 1367.3L455.1 1364.5L455.3 1361.8L455.5 1359.0L455.7 1356.3L455.9 1353.5L456.1 1350.7L456.3 1348.0L456.5 1345.2L456.7 1342.5L456.9 1339.7L457.2 1337.0L457.4 1334.2L457.6 1331.5L457.8 1328.7L458.0 1325.9L458.2 1323.2L458.4 1320.4L458.7 1317.6L458.9 1314.9L459.1 1312.1L459.4 1309.3L459.6 1306.6L459.8 1303.8L460.1 1301.0L460.3 1298.2L460.6 1295.5L460.9 1292.7L461.1 1289.9L461.4 1287.1L461.7 1284.3L462.0 1281.5L462.3 1278.7L462.6 1275.9L462.9 1273.1L463.2 1270.3L463.5 1267.4L463.8 1264.6L464.2 1261.8L464.5 1259.0L464.9 1256.2L465.2 1253.4L465.6 1250.5L466.0 1247.7L466.4 1244.9L466.9 1242.1L467.3 1239.3L467.8 1236.5L468.2 1233.7L468.7 1230.9L469.2 1228.1L469.7 1225.3L470.3 1222.5L470.8 1219.7L471.4 1216.9L472.0 1214.2L472.7 1211.4L473.3 1208.7L474.0 1205.9L474.7 1203.2L475.4 1200.5L476.2 1197.7L477.0 1195.1L477.8 1192.4L478.7 1189.7L479.5 1187.0L480.4 1184.4L481.4 1181.8L482.5 1179.2L483.6 1176.6L484.8 1174.1L485.9 1171.6L487.1 1169.1L488.3 1166.6L489.6 1164.1L491.0 1161.7L492.3 1159.3L493.7 1156.9L495.1 1154.6L496.3 1152.1L497.5 1149.6L498.7 1147.2L500.0 1144.7L501.3 1142.4L502.8 1140.1L504.3 1137.8L505.8 1135.5L507.3 1133.2L508.9 1131.0L510.5 1128.8L512.2 1126.6L513.9 1124.4L515.6 1122.3L517.3 1120.2L519.1 1118.1L520.9 1116.1L522.7 1114.0L524.6 1112.0L526.5 1110.0L528.4 1108.1L530.4 1106.1L532.4 1104.2L534.4 1102.4L536.4 1100.5L538.5 1098.7L540.6 1096.9L542.8 1095.1L544.9 1093.4L547.1 1091.7L549.3 1090.0L551.5 1088.3L553.8 1086.7L556.1 1085.1L558.4 1083.5L560.7 1081.9L563.1 1080.4L565.4 1078.9L567.8 1077.4L570.2 1075.9L572.6 1074.4L575.0 1073.0L577.5 1071.5L579.9 1070.1L582.4 1068.8L584.9 1067.4L587.4 1066.0L589.9 1064.7L592.5 1063.4L595.0 1062.1L597.6 1060.8L600.1 1059.6L602.7 1058.3L605.3 1057.1L607.9 1055.9L610.5 1054.7L613.1 1053.6L615.7 1052.4L618.3 1051.2L620.9 1050.1L623.5 1049.0L626.2 1047.9L628.8 1046.8L631.4 1045.7L634.0 1044.6L636.7 1043.6L639.3 1042.5L641.9 1041.5L644.5 1040.5L647.2 1039.5L649.8 1038.5L652.4 1037.5L655.0 1036.5L657.6 1035.5L660.2 1034.5L662.8 1033.6L665.3 1032.6L667.9 1031.7L670.5 1030.7L673.0 1029.8L675.5 1028.9L678.1 1028.0L680.6 1027.0L683.1 1026.1L685.6 1025.2L688.0 1024.3" fill="none" stroke="#111" stroke-width="4.80" stroke-linecap="round" stroke-linejoin="round"/>
<path d="M230.0 1685.0L232.5 1684.1L235.1 1683.2L237.6 1682.3L240.2 1681.4L242.7 1680.5L245.3 1679.6L247.9 1678.7L250.5 1677.7L253.1 1676.8L255.7 1675.9L258.3 1675.0L260.9 1674.0L263.5 1673.1L266.2 1672.1L268.8 1671.1L271.4 1670.2L274.1 1669.2L276.7 1668.2L279.4 1667.2L282.0 1666.2L284.7 1665.1L287.3 1664.1L289.9 1663.1L292.6 1662.0L295.2 1660.9L297.8 1659.8L300.5 1658.7L303.1 1657.6L305.7 1656.5L308.3 1655.3L310.9 1654.2L313.5 1653.0L316.1 1651.8L318.7 1650.5L321.2 1649.3L323.8 1648.0L326.3 1646.8L328.8 1645.5L331.3 1644.2L333.8 1642.8L336.3 1641.4L338.8 1640.1L341.2 1638.7L343.6 1637.2L346.0 1635.8L348.4 1634.3L350.8 1632.8L353.2 1631.3L355.5 1629.7L357.8 1628.1L360.1 1626.5L362.3 1624.9L364.6 1623.2L366.8 1621.5L369.0 1619.8L371.1 1618.1L373.3 1616.3L375.4 1614.6L377.5 1612.8L379.6 1610.9L381.6 1609.1L383.7 1607.2L385.7 1605.3L387.6 1603.4L389.6 1601.4L391.5 1599.5L393.4 1597.5L395.3 1595.4L397.1 1593.4L398.9 1591.3L400.7 1589.3L402.5 1587.1L404.2 1585.0L405.9 1582.9L407.6 1580.7L409.2 1578.5L410.8 1576.3L412.4 1574.0L414.0 1571.8L415.5 1569.5L417.0 1567.2L418.5 1564.9L419.9 1562.5L421.3 1560.2L422.7 1557.8L424.0 1555.4L425.2 1552.9L426.4 1550.4L427.6 1547.9L428.7 1545.4L429.8 1542.9L430.9 1540.4L432.1 1537.9L433.3 1535.5L434.5 1533.0L435.7 1530.5L436.9 1528.0L438.0 1525.4L439.0 1522.8L440.0 1520.3L441.0 1517.7L442.0 1515.0L442.9 1512.4L443.8 1509.8L444.7 1507.1L445.5 1504.4L446.2 1501.7L447.0 1499.0L447.7 1496.3L448.3 1493.6L449.0 1490.8L449.6 1488.1L450.2 1485.3L450.8 1482.6L451.4 1479.8L451.9 1477.0L452.4 1474.3L453.0 1471.5L453.4 1468.7L453.9 1465.9L454.4 1463.1L454.8 1460.3L455.3 1457.5L455.7 1454.7L456.1 1451.9L456.5 1449.1L456.8 1446.2L457.2 1443.4L457.5 1440.6L457.9 1437.8L458.2 1435.0L458.5 1432.2L458.8 1429.3L459.1 1426.5L459.4 1423.7L459.6 1420.9L459.9 1418.1L460.2 1415.3L460.4 1412.5L460.7 1409.6L460.9 1406.8L461.2 1404.1L461.4 1401.3L461.6 1398.5L461.9 1395.7L462.1 1392.9L462.3 1390.1L462.5 1387.3L462.8 1384.6L463.0 1381.8L463.2 1379.0L463.4 1376.3L463.6 1373.5L463.8 1370.7L464.1 1368.0L464.3 1365.2L464.5 1362.5L464.7 1359.7L464.9 1356.9L465.1 1354.2L465.3 1351.4L465.5 1348.7L465.7 1345.9L465.9 1343.2L466.1 1340.4L466.3 1337.7L466.5 1334.9L466.7 1332.2L467.0 1329.4L467.2 1326.7L467.4 1323.9L467.6 1321.1L467.8 1318.4L468.1 1315.6L468.3 1312.9L468.5 1310.1L468.8 1307.4L469.0 1304.6L469.3 1301.8L469.5 1299.1L469.8 1296.3L470.0 1293.5L470.3 1290.8L470.6 1288.0L470.8 1285.2L471.1 1282.4L471.4 1279.6L471.7 1276.9L472.0 1274.1L472.3 1271.3L472.6 1268.5L473.0 1265.7L473.3 1262.9L473.6 1260.1L474.0 1257.4L474.4 1254.6L474.7 1251.8L475.1 1249.0L475.5 1246.3L476.0 1243.5L476.4 1240.7L476.8 1238.0L477.3 1235.2L477.8 1232.5L478.3 1229.7L478.8 1227.0L479.3 1224.3L479.9 1221.6L480.4 1218.9L481.0 1216.2L481.6 1213.5L482.2 1210.8L482.9 1208.1L483.5 1205.5L484.2 1202.8L484.9 1200.1L485.6 1197.5L486.3 1194.9L487.0 1192.3L487.8 1189.7L488.6 1187.1L489.4 1184.5L490.1 1181.9L490.8 1179.3L491.6 1176.7L492.5 1174.2L493.3 1171.6L494.2 1169.1L495.0 1166.5L495.9 1164.0L496.9 1161.5L497.8 1159.0L498.9 1156.5L500.2 1154.2L501.6 1151.9L503.0 1149.6L504.4 1147.3L505.8 1145.0L507.1 1142.8L508.5 1140.5L510.0 1138.2L511.4 1136.0L512.9 1133.8L514.5 1131.6L516.0 1129.5L517.6 1127.3L519.2 1125.2L520.9 1123.1L522.6 1121.1L524.3 1119.0L526.1 1117.0L527.9 1115.0L529.7 1113.1L531.5 1111.1L533.4 1109.2L535.3 1107.3L537.3 1105.4L539.2 1103.6L541.2 1101.8L543.3 1100.0L545.3 1098.2L547.4 1096.5L549.5 1094.8L551.7 1093.1L553.8 1091.4L556.0 1089.8L558.3 1088.2L560.5 1086.6L562.8 1085.0L565.1 1083.4L567.4 1081.9L569.7 1080.4L572.1 1078.9L574.5 1077.5L576.8 1076.0L579.3 1074.6L581.7 1073.2L584.1 1071.8L586.6 1070.5L589.1 1069.1L591.6 1067.8L594.1 1066.5L596.6 1065.2L599.1 1064.0L601.7 1062.7L604.2 1061.5L606.8 1060.3L609.3 1059.0L611.9 1057.9L614.5 1056.7L617.1 1055.5L619.7 1054.4L622.3 1053.2L624.9 1052.1L627.5 1051.0L630.1 1049.9L632.7 1048.8L635.3 1047.8L637.9 1046.7L640.5 1045.7L643.1 1044.6L645.8 1043.6L648.4 1042.6L651.0 1041.6L653.6 1040.6L656.2 1039.6L658.8 1038.6L661.3 1037.6L663.9 1036.7L666.5 1035.7L669.0 1034.8L671.6 1033.8L674.1 1032.9L676.7 1031.9L679.2 1031.0L681.7 1030.1L684.2 1029.2L686.7 1028.3L689.1 1027.4" fill="none" stroke="#111" stroke-width="4.80" stroke-linecap="round" stroke-linejoin="round"/>
<circle cx="229.48" cy="1683.45" r="4.03" fill="#111"/>
<circle cx="688.59" cy="1025.84" r="4.02" fill="#111"/>
<rect x="102.60" y="970.00" width="712.90" height="769.80" fill="none" stroke="#151515" stroke-width="3.6" stroke-linejoin="round"/>
<text transform="translate(52.37 979.72) scale(0.7900 1)" font-family='"Liberation Sans", sans-serif' font-weight="normal" font-size="30.60" fill="#111" stroke="#111" stroke-width="1.1">20</text>
<text transform="translate(52.43 1075.79) scale(0.7900 1)" font-family='"Liberation Sans", sans-serif' font-weight="normal" font-size="30.60" fill="#111" stroke="#111" stroke-width="1.1">15</text>
<text transform="translate(52.37 1172.17) scale(0.7900 1)" font-family='"Liberation Sans", sans-serif' font-weight="normal" font-size="30.60" fill="#111" stroke="#111" stroke-width="1.1">10</text>
<text transform="translate(65.85 1268.24) scale(0.7900 1)" font-family='"Liberation Sans", sans-serif' font-weight="normal" font-size="30.60" fill="#111" stroke="#111" stroke-width="1.1">5</text>
<text transform="translate(65.79 1364.62) scale(0.7900 1)" font-family='"Liberation Sans", sans-serif' font-weight="normal" font-size="30.60" fill="#111" stroke="#111" stroke-width="1.1">0</text>
<text transform="translate(57.81 1460.69) scale(0.7900 1)" font-family='"Liberation Sans", sans-serif' font-weight="normal" font-size="30.60" fill="#111" stroke="#111" stroke-width="1.1"><tspan stroke-width="2.1" stroke-linejoin="round" stroke-linecap="round">-</tspan>5</text>
<text transform="translate(44.28 1557.07) scale(0.7900 1)" font-family='"Liberation Sans", sans-serif' font-weight="normal" font-size="30.60" fill="#111" stroke="#111" stroke-width="1.1"><tspan stroke-width="2.1" stroke-linejoin="round" stroke-linecap="round">-</tspan>10</text>
<text transform="translate(44.34 1653.14) scale(0.7900 1)" font-family='"Liberation Sans", sans-serif' font-weight="normal" font-size="30.60" fill="#111" stroke="#111" stroke-width="1.1"><tspan stroke-width="2.1" stroke-linejoin="round" stroke-linecap="round">-</tspan>15</text>
<text transform="translate(44.28 1749.52) scale(0.7900 1)" font-family='"Liberation Sans", sans-serif' font-weight="normal" font-size="30.60" fill="#111" stroke="#111" stroke-width="1.1"><tspan stroke-width="2.1" stroke-linejoin="round" stroke-linecap="round">-</tspan>20</text>
<text transform="translate(64.89 1793.52) scale(0.7900 1)" font-family='"Liberation Sans", sans-serif' font-weight="normal" font-size="30.60" fill="#111" stroke="#111" stroke-width="1.1"><tspan stroke-width="2.1" stroke-linejoin="round" stroke-linecap="round">-</tspan>15000</text>
<text transform="translate(183.71 1793.52) scale(0.7900 1)" font-family='"Liberation Sans", sans-serif' font-weight="normal" font-size="30.60" fill="#111" stroke="#111" stroke-width="1.1"><tspan stroke-width="2.1" stroke-linejoin="round" stroke-linecap="round">-</tspan>10000</text>
<text transform="translate(309.23 1793.52) scale(0.7900 1)" font-family='"Liberation Sans", sans-serif' font-weight="normal" font-size="30.60" fill="#111" stroke="#111" stroke-width="1.1"><tspan stroke-width="2.1" stroke-linejoin="round" stroke-linecap="round">-</tspan>5000</text>
<text transform="translate(452.31 1793.52) scale(0.7900 1)" font-family='"Liberation Sans", sans-serif' font-weight="normal" font-size="30.60" fill="#111" stroke="#111" stroke-width="1.1">0</text>
<text transform="translate(550.97 1793.52) scale(0.7900 1)" font-family='"Liberation Sans", sans-serif' font-weight="normal" font-size="30.60" fill="#111" stroke="#111" stroke-width="1.1">5000</text>
<text transform="translate(662.63 1793.52) scale(0.7900 1)" font-family='"Liberation Sans", sans-serif' font-weight="normal" font-size="30.60" fill="#111" stroke="#111" stroke-width="1.1">10000</text>
<g clip-path="url(#clipc)"><text transform="translate(781.44 1793.52) scale(0.7900 1)" font-family='"Liberation Sans", sans-serif' font-weight="normal" font-size="30.60" fill="#111" stroke="#111" stroke-width="1.1">15000</text></g>
<text transform="translate(297.11 1849.00) scale(0.9978 1)" font-family='"Liberation Serif", serif' font-weight="bold" font-size="39.20" fill="#111">Applied Field (Oe)</text>
<text transform="translate(32.20 1546.29) rotate(-90) scale(0.9669 1)" font-family='"Liberation Serif", serif' font-weight="bold" font-size="40.50" fill="#111">Magnetization (cmu/g)</text>
<text transform="translate(113.22 1037.47) scale(0.7830 1)" font-family='"Liberation Serif", serif' font-weight="normal" font-size="53.33" fill="#111" stroke="#111" stroke-width="1.3">(c)</text>
<line x1="968.90" y1="1352.20" x2="1665.70" y2="1352.20" stroke="#1f1f1f" stroke-width="2.8" stroke-linecap="round"/>
<line x1="1319.30" y1="970.40" x2="1319.30" y2="1733.20" stroke="#7a7a7a" stroke-width="2.8" stroke-linecap="round"/>
<path d="M1088.0 1656.8L1089.8 1655.2L1091.5 1653.6L1093.3 1651.9L1095.0 1650.3L1096.8 1648.7L1098.6 1647.1L1100.4 1645.5L1102.2 1643.9L1104.0 1642.3L1105.8 1640.6L1107.7 1639.0L1109.5 1637.5L1111.3 1635.9L1113.2 1634.3L1115.0 1632.7L1116.9 1631.1L1118.8 1629.5L1120.7 1627.9L1122.5 1626.3L1124.4 1624.7L1126.3 1623.2L1128.2 1621.6L1130.1 1620.0L1132.0 1618.4L1133.9 1616.8L1135.9 1615.3L1137.8 1613.7L1139.7 1612.1L1141.6 1610.5L1143.5 1608.9L1145.5 1607.4L1147.4 1605.8L1149.3 1604.2L1151.2 1602.6L1153.2 1601.0L1155.1 1599.4L1157.0 1597.8L1159.0 1596.2L1160.9 1594.6L1162.8 1593.0L1164.7 1591.4L1166.7 1589.8L1168.6 1588.2L1170.5 1586.6L1172.4 1585.0L1174.3 1583.4L1176.3 1581.8L1178.2 1580.2L1180.1 1578.5L1182.0 1576.9L1183.9 1575.3L1185.8 1573.6L1187.7 1572.0L1189.5 1570.4L1191.4 1568.7L1193.3 1567.1L1195.2 1565.4L1197.0 1563.7L1198.9 1562.1L1200.7 1560.4L1202.6 1558.7L1204.4 1557.0L1206.2 1555.3L1208.0 1553.6L1209.8 1551.9L1211.6 1550.1L1213.4 1548.4L1215.1 1546.7L1216.9 1544.9L1218.6 1543.2L1220.4 1541.4L1222.1 1539.6L1223.8 1537.9L1225.5 1536.1L1227.2 1534.3L1228.9 1532.5L1230.5 1530.7L1232.2 1528.9L1233.8 1527.0L1235.4 1525.2L1237.0 1523.3L1238.6 1521.5L1240.2 1519.6L1241.7 1517.7L1243.3 1515.9L1244.8 1514.0L1246.3 1512.1L1247.8 1510.2L1249.3 1508.2L1250.8 1506.3L1252.2 1504.4L1253.7 1502.5L1255.1 1500.5L1256.5 1498.6L1257.9 1496.6L1259.3 1494.6L1260.7 1492.6L1262.0 1490.6L1263.3 1488.6L1264.7 1486.6L1266.0 1484.6L1267.4 1482.6L1268.8 1480.7L1270.2 1478.7L1271.5 1476.6L1272.2 1474.3L1273.0 1472.0L1273.7 1469.6L1274.5 1467.3L1275.3 1465.0L1276.1 1462.7L1276.8 1460.4L1277.7 1458.1L1278.7 1455.9L1279.7 1453.8L1280.6 1451.6L1281.5 1449.4L1282.5 1447.1L1283.4 1444.9L1284.4 1442.8L1285.4 1440.6L1286.4 1438.4L1287.4 1436.2L1288.4 1434.1L1289.4 1431.9L1290.3 1429.7L1291.3 1427.5L1292.2 1425.2L1293.1 1423.0L1294.0 1420.8L1294.9 1418.5L1295.8 1416.3L1296.7 1414.0L1297.5 1411.8L1298.3 1409.5L1299.2 1407.2L1300.0 1404.9L1300.8 1402.7L1301.6 1400.4L1302.4 1398.1L1303.1 1395.8L1303.9 1393.4L1304.6 1391.1L1305.3 1388.8L1306.1 1386.5L1306.7 1384.1L1307.4 1381.8L1308.0 1379.4L1308.6 1377.1L1309.3 1374.7L1309.9 1372.3L1310.4 1369.9L1311.0 1367.6L1311.6 1365.2L1312.1 1362.8L1312.7 1360.4L1313.2 1358.0L1313.7 1355.6L1314.2 1353.2L1314.7 1350.8L1315.2 1348.4L1315.7 1346.0L1316.2 1343.6L1316.7 1341.2L1317.2 1338.7L1317.6 1336.3L1318.1 1333.9L1318.6 1331.4L1319.0 1329.0L1319.5 1326.6L1320.0 1324.1L1320.4 1321.7L1320.9 1319.2L1321.4 1316.8L1321.9 1314.3L1322.4 1311.9L1322.9 1309.5L1323.4 1307.0L1323.9 1304.6L1324.4 1302.1L1324.9 1299.7L1325.4 1297.3L1326.0 1294.8L1326.5 1292.4L1327.1 1290.0L1327.7 1287.5L1328.3 1285.1L1329.0 1282.7L1329.6 1280.3L1330.3 1277.9L1331.0 1275.5L1331.8 1273.1L1332.7 1270.7L1333.5 1268.4L1334.4 1266.0L1335.4 1263.7L1336.4 1261.4L1337.4 1259.1L1338.5 1256.8L1339.6 1254.5L1340.7 1252.3L1341.9 1250.0L1343.1 1247.8L1344.4 1245.6L1345.7 1243.5L1347.3 1241.5L1349.0 1239.6L1350.6 1237.6L1352.3 1235.7L1354.0 1233.8L1355.6 1231.9L1357.3 1230.0L1358.9 1228.1L1360.5 1226.1L1361.9 1224.1L1363.4 1222.0L1364.8 1220.0L1366.3 1217.9L1367.8 1215.9L1369.3 1213.9L1370.9 1211.9L1372.4 1209.9L1374.0 1208.0L1375.6 1206.0L1377.2 1204.1L1378.9 1202.2L1380.5 1200.3L1382.2 1198.3L1383.8 1196.4L1385.5 1194.6L1387.2 1192.7L1388.9 1190.8L1390.6 1189.0L1392.3 1187.1L1394.0 1185.3L1395.8 1183.5L1397.5 1181.8L1399.3 1180.0L1401.0 1178.2L1402.8 1176.5L1404.6 1174.7L1406.4 1173.0L1408.1 1171.2L1409.9 1169.5L1411.7 1167.8L1413.5 1166.1L1415.3 1164.4L1417.1 1162.7L1418.9 1161.0L1420.7 1159.3L1422.6 1157.7L1424.4 1156.0L1426.2 1154.3L1428.0 1152.7L1429.9 1151.0L1431.7 1149.4L1433.5 1147.8L1435.4 1146.1L1437.2 1144.5L1439.1 1142.9L1440.9 1141.3L1442.8 1139.7L1444.6 1138.0L1446.4 1136.4L1448.3 1134.8L1450.1 1133.1L1451.9 1131.5L1453.8 1129.9L1455.6 1128.3L1457.5 1126.7L1459.3 1125.1L1461.1 1123.5L1463.0 1121.9L1464.8 1120.3L1466.7 1118.7L1468.5 1117.1L1470.4 1115.5L1472.3 1113.9L1474.1 1112.3L1476.0 1110.7L1477.8 1109.1L1479.7 1107.5L1481.6 1105.9L1483.4 1104.3L1485.3 1102.8L1487.2 1101.2L1489.0 1099.6L1490.9 1098.0L1492.8 1096.4L1494.6 1094.8L1496.5 1093.2L1498.4 1091.6L1500.2 1090.0L1502.1 1088.4L1504.0 1086.8L1505.8 1085.2L1507.7 1083.6L1509.6 1082.0L1511.4 1080.4L1513.3 1078.8L1515.2 1077.2L1517.0 1075.6L1518.9 1074.0L1520.7 1072.4L1522.6 1070.8L1524.5 1069.2L1526.3 1067.6L1528.2 1065.9L1530.1 1064.3L1531.9 1062.7L1533.8 1061.0L1535.6 1059.4L1537.5 1057.7L1539.3 1056.0L1541.1 1054.3L1542.9 1052.6L1544.7 1050.9L1546.5 1049.2L1548.3 1047.5" fill="none" stroke="#fff" stroke-width="10.80" stroke-linecap="round" stroke-linejoin="round"/>
<path d="M1090.1 1659.0L1091.8 1657.4L1093.5 1655.8L1095.3 1654.1L1097.0 1652.5L1098.8 1650.9L1100.6 1649.3L1102.4 1647.7L1104.2 1646.1L1106.0 1644.5L1107.8 1642.9L1109.6 1641.3L1111.5 1639.7L1113.3 1638.1L1115.1 1636.5L1117.0 1635.0L1118.9 1633.4L1120.7 1631.8L1122.6 1630.2L1124.5 1628.6L1126.4 1627.0L1128.2 1625.5L1130.1 1623.9L1132.0 1622.3L1133.9 1620.7L1135.8 1619.1L1137.8 1617.6L1139.7 1616.0L1141.6 1614.4L1143.5 1612.8L1145.4 1611.3L1147.4 1609.7L1149.3 1608.1L1151.2 1606.5L1153.1 1604.9L1155.1 1603.3L1157.0 1601.7L1158.9 1600.2L1160.9 1598.6L1162.8 1597.0L1164.7 1595.4L1166.7 1593.8L1168.6 1592.2L1170.5 1590.6L1172.5 1589.0L1174.4 1587.4L1176.3 1585.8L1178.3 1584.1L1180.2 1582.5L1182.1 1580.9L1184.0 1579.3L1185.9 1577.6L1187.8 1576.0L1189.7 1574.4L1191.6 1572.7L1193.5 1571.1L1195.4 1569.4L1197.3 1567.8L1199.1 1566.1L1201.0 1564.4L1202.9 1562.8L1204.7 1561.1L1206.6 1559.4L1208.5 1557.7L1210.3 1556.0L1212.1 1554.4L1214.0 1552.7L1215.8 1551.0L1217.6 1549.2L1219.4 1547.5L1221.2 1545.8L1223.0 1544.1L1224.8 1542.3L1226.6 1540.6L1228.3 1538.8L1230.1 1537.0L1231.8 1535.3L1233.5 1533.5L1235.3 1531.7L1237.0 1529.9L1238.7 1528.1L1240.4 1526.3L1242.0 1524.5L1243.7 1522.7L1245.3 1520.8L1247.0 1519.0L1248.6 1517.1L1250.2 1515.3L1251.8 1513.4L1253.4 1511.5L1254.9 1509.6L1256.5 1507.6L1258.0 1505.7L1259.5 1503.7L1260.9 1501.8L1262.4 1499.8L1263.9 1497.8L1265.3 1495.8L1266.7 1493.8L1268.1 1491.8L1269.5 1489.8L1270.8 1487.7L1272.0 1485.5L1273.2 1483.4L1274.4 1481.3L1275.6 1479.1L1277.3 1477.3L1279.1 1475.5L1280.8 1473.6L1282.4 1471.7L1283.9 1469.7L1285.5 1467.8L1287.0 1465.8L1288.5 1463.7L1289.7 1461.6L1290.9 1459.5L1292.2 1457.3L1293.4 1455.1L1294.6 1452.9L1295.8 1450.8L1296.8 1448.5L1297.8 1446.2L1298.8 1444.0L1299.8 1441.7L1300.8 1439.4L1301.7 1437.1L1302.6 1434.7L1303.5 1432.4L1304.4 1430.1L1305.3 1427.8L1306.2 1425.4L1307.0 1423.1L1307.8 1420.7L1308.7 1418.4L1309.5 1416.0L1310.3 1413.7L1311.0 1411.3L1311.8 1408.9L1312.6 1406.5L1313.3 1404.1L1314.0 1401.8L1314.7 1399.4L1315.4 1397.0L1316.1 1394.6L1316.8 1392.1L1317.4 1389.7L1318.1 1387.3L1318.8 1384.9L1319.4 1382.5L1320.1 1380.1L1320.7 1377.7L1321.4 1375.2L1322.0 1372.8L1322.6 1370.4L1323.2 1367.9L1323.8 1365.5L1324.3 1363.0L1324.9 1360.6L1325.4 1358.1L1326.0 1355.7L1326.5 1353.2L1327.0 1350.8L1327.5 1348.3L1327.9 1345.9L1328.4 1343.4L1328.9 1340.9L1329.3 1338.5L1329.8 1336.0L1330.2 1333.6L1330.6 1331.2L1331.1 1328.7L1331.5 1326.3L1332.0 1323.9L1332.4 1321.4L1332.9 1319.0L1333.3 1316.6L1333.8 1314.2L1334.3 1311.8L1334.8 1309.4L1335.3 1307.0L1335.8 1304.7L1336.4 1302.3L1337.0 1300.0L1337.6 1297.6L1338.2 1295.3L1338.8 1293.0L1339.5 1290.7L1340.1 1288.4L1340.8 1286.1L1341.5 1283.9L1342.3 1281.6L1343.0 1279.4L1343.7 1277.1L1344.5 1274.9L1345.3 1272.7L1346.1 1270.5L1346.9 1268.3L1347.8 1266.2L1348.7 1264.0L1349.6 1261.9L1350.5 1259.7L1351.5 1257.6L1352.5 1255.4L1353.5 1253.3L1354.6 1251.2L1355.6 1249.0L1356.4 1246.8L1357.2 1244.5L1358.1 1242.2L1359.0 1239.9L1360.0 1237.7L1361.1 1235.5L1362.1 1233.3L1363.3 1231.1L1364.5 1228.9L1365.9 1226.9L1367.4 1225.0L1368.9 1223.0L1370.4 1221.1L1372.0 1219.1L1373.5 1217.2L1375.1 1215.3L1376.7 1213.4L1378.2 1211.4L1379.8 1209.5L1381.4 1207.6L1383.0 1205.7L1384.7 1203.9L1386.3 1202.0L1388.0 1200.1L1389.6 1198.3L1391.3 1196.4L1393.0 1194.6L1394.7 1192.8L1396.3 1190.9L1398.0 1189.1L1399.7 1187.2L1401.3 1185.4L1403.0 1183.6L1404.7 1181.8L1406.4 1179.9L1408.1 1178.1L1409.8 1176.4L1411.5 1174.6L1413.2 1172.8L1414.9 1171.0L1416.6 1169.2L1418.3 1167.5L1420.1 1165.7L1421.8 1163.9L1423.5 1162.2L1425.2 1160.5L1427.0 1158.7L1428.7 1157.0L1430.5 1155.3L1432.2 1153.5L1434.0 1151.8L1435.7 1150.1L1437.5 1148.4L1439.2 1146.7L1441.0 1145.0L1442.8 1143.3L1444.5 1141.6L1446.3 1140.0L1448.1 1138.3L1450.0 1136.7L1451.8 1135.0L1453.6 1133.4L1455.4 1131.7L1457.2 1130.1L1459.0 1128.5L1460.9 1126.9L1462.7 1125.2L1464.5 1123.6L1466.4 1122.0L1468.2 1120.4L1470.0 1118.8L1471.9 1117.2L1473.7 1115.5L1475.6 1113.9L1477.4 1112.3L1479.2 1110.7L1481.1 1109.1L1482.9 1107.5L1484.8 1105.9L1486.6 1104.3L1488.5 1102.7L1490.3 1101.1L1492.2 1099.5L1494.1 1097.9L1495.9 1096.3L1497.8 1094.7L1499.7 1093.1L1501.5 1091.5L1503.4 1090.0L1505.3 1088.4L1507.1 1086.8L1509.0 1085.2L1510.9 1083.6L1512.7 1082.0L1514.6 1080.4L1516.5 1078.7L1518.3 1077.1L1520.2 1075.5L1522.1 1073.9L1523.9 1072.3L1525.8 1070.7L1527.7 1069.1L1529.5 1067.4L1531.4 1065.8L1533.2 1064.2L1535.1 1062.5L1537.0 1060.9L1538.9 1059.3L1540.8 1057.7L1542.7 1056.1L1544.6 1054.5L1546.5 1052.9L1548.4 1051.3L1550.3 1049.7" fill="none" stroke="#fff" stroke-width="10.80" stroke-linecap="round" stroke-linejoin="round"/>
<path d="M1088.0 1656.8L1089.8 1655.2L1091.5 1653.6L1093.3 1651.9L1095.0 1650.3L1096.8 1648.7L1098.6 1647.1L1100.4 1645.5L1102.2 1643.9L1104.0 1642.3L1105.8 1640.6L1107.7 1639.0L1109.5 1637.5L1111.3 1635.9L1113.2 1634.3L1115.0 1632.7L1116.9 1631.1L1118.8 1629.5L1120.7 1627.9L1122.5 1626.3L1124.4 1624.7L1126.3 1623.2L1128.2 1621.6L1130.1 1620.0L1132.0 1618.4L1133.9 1616.8L1135.9 1615.3L1137.8 1613.7L1139.7 1612.1L1141.6 1610.5L1143.5 1608.9L1145.5 1607.4L1147.4 1605.8L1149.3 1604.2L1151.2 1602.6L1153.2 1601.0L1155.1 1599.4L1157.0 1597.8L1159.0 1596.2L1160.9 1594.6L1162.8 1593.0L1164.7 1591.4L1166.7 1589.8L1168.6 1588.2L1170.5 1586.6L1172.4 1585.0L1174.3 1583.4L1176.3 1581.8L1178.2 1580.2L1180.1 1578.5L1182.0 1576.9L1183.9 1575.3L1185.8 1573.6L1187.7 1572.0L1189.5 1570.4L1191.4 1568.7L1193.3 1567.1L1195.2 1565.4L1197.0 1563.7L1198.9 1562.1L1200.7 1560.4L1202.6 1558.7L1204.4 1557.0L1206.2 1555.3L1208.0 1553.6L1209.8 1551.9L1211.6 1550.1L1213.4 1548.4L1215.1 1546.7L1216.9 1544.9L1218.6 1543.2L1220.4 1541.4L1222.1 1539.6L1223.8 1537.9L1225.5 1536.1L1227.2 1534.3L1228.9 1532.5L1230.5 1530.7L1232.2 1528.9L1233.8 1527.0L1235.4 1525.2L1237.0 1523.3L1238.6 1521.5L1240.2 1519.6L1241.7 1517.7L1243.3 1515.9L1244.8 1514.0L1246.3 1512.1L1247.8 1510.2L1249.3 1508.2L1250.8 1506.3L1252.2 1504.4L1253.7 1502.5L1255.1 1500.5L1256.5 1498.6L1257.9 1496.6L1259.3 1494.6L1260.7 1492.6L1262.0 1490.6L1263.3 1488.6L1264.7 1486.6L1266.0 1484.6L1267.4 1482.6L1268.8 1480.7L1270.2 1478.7L1271.5 1476.6L1272.2 1474.3L1273.0 1472.0L1273.7 1469.6L1274.5 1467.3L1275.3 1465.0L1276.1 1462.7L1276.8 1460.4L1277.7 1458.1L1278.7 1455.9L1279.7 1453.8L1280.6 1451.6L1281.5 1449.4L1282.5 1447.1L1283.4 1444.9L1284.4 1442.8L1285.4 1440.6L1286.4 1438.4L1287.4 1436.2L1288.4 1434.1L1289.4 1431.9L1290.3 1429.7L1291.3 1427.5L1292.2 1425.2L1293.1 1423.0L1294.0 1420.8L1294.9 1418.5L1295.8 1416.3L1296.7 1414.0L1297.5 1411.8L1298.3 1409.5L1299.2 1407.2L1300.0 1404.9L1300.8 1402.7L1301.6 1400.4L1302.4 1398.1L1303.1 1395.8L1303.9 1393.4L1304.6 1391.1L1305.3 1388.8L1306.1 1386.5L1306.7 1384.1L1307.4 1381.8L1308.0 1379.4L1308.6 1377.1L1309.3 1374.7L1309.9 1372.3L1310.4 1369.9L1311.0 1367.6L1311.6 1365.2L1312.1 1362.8L1312.7 1360.4L1313.2 1358.0L1313.7 1355.6L1314.2 1353.2L1314.7 1350.8L1315.2 1348.4L1315.7 1346.0L1316.2 1343.6L1316.7 1341.2L1317.2 1338.7L1317.6 1336.3L1318.1 1333.9L1318.6 1331.4L1319.0 1329.0L1319.5 1326.6L1320.0 1324.1L1320.4 1321.7L1320.9 1319.2L1321.4 1316.8L1321.9 1314.3L1322.4 1311.9L1322.9 1309.5L1323.4 1307.0L1323.9 1304.6L1324.4 1302.1L1324.9 1299.7L1325.4 1297.3L1326.0 1294.8L1326.5 1292.4L1327.1 1290.0L1327.7 1287.5L1328.3 1285.1L1329.0 1282.7L1329.6 1280.3L1330.3 1277.9L1331.0 1275.5L1331.8 1273.1L1332.7 1270.7L1333.5 1268.4L1334.4 1266.0L1335.4 1263.7L1336.4 1261.4L1337.4 1259.1L1338.5 1256.8L1339.6 1254.5L1340.7 1252.3L1341.9 1250.0L1343.1 1247.8L1344.4 1245.6L1345.7 1243.5L1347.3 1241.5L1349.0 1239.6L1350.6 1237.6L1352.3 1235.7L1354.0 1233.8L1355.6 1231.9L1357.3 1230.0L1358.9 1228.1L1360.5 1226.1L1361.9 1224.1L1363.4 1222.0L1364.8 1220.0L1366.3 1217.9L1367.8 1215.9L1369.3 1213.9L1370.9 1211.9L1372.4 1209.9L1374.0 1208.0L1375.6 1206.0L1377.2 1204.1L1378.9 1202.2L1380.5 1200.3L1382.2 1198.3L1383.8 1196.4L1385.5 1194.6L1387.2 1192.7L1388.9 1190.8L1390.6 1189.0L1392.3 1187.1L1394.0 1185.3L1395.8 1183.5L1397.5 1181.8L1399.3 1180.0L1401.0 1178.2L1402.8 1176.5L1404.6 1174.7L1406.4 1173.0L1408.1 1171.2L1409.9 1169.5L1411.7 1167.8L1413.5 1166.1L1415.3 1164.4L1417.1 1162.7L1418.9 1161.0L1420.7 1159.3L1422.6 1157.7L1424.4 1156.0L1426.2 1154.3L1428.0 1152.7L1429.9 1151.0L1431.7 1149.4L1433.5 1147.8L1435.4 1146.1L1437.2 1144.5L1439.1 1142.9L1440.9 1141.3L1442.8 1139.7L1444.6 1138.0L1446.4 1136.4L1448.3 1134.8L1450.1 1133.1L1451.9 1131.5L1453.8 1129.9L1455.6 1128.3L1457.5 1126.7L1459.3 1125.1L1461.1 1123.5L1463.0 1121.9L1464.8 1120.3L1466.7 1118.7L1468.5 1117.1L1470.4 1115.5L1472.3 1113.9L1474.1 1112.3L1476.0 1110.7L1477.8 1109.1L1479.7 1107.5L1481.6 1105.9L1483.4 1104.3L1485.3 1102.8L1487.2 1101.2L1489.0 1099.6L1490.9 1098.0L1492.8 1096.4L1494.6 1094.8L1496.5 1093.2L1498.4 1091.6L1500.2 1090.0L1502.1 1088.4L1504.0 1086.8L1505.8 1085.2L1507.7 1083.6L1509.6 1082.0L1511.4 1080.4L1513.3 1078.8L1515.2 1077.2L1517.0 1075.6L1518.9 1074.0L1520.7 1072.4L1522.6 1070.8L1524.5 1069.2L1526.3 1067.6L1528.2 1065.9L1530.1 1064.3L1531.9 1062.7L1533.8 1061.0L1535.6 1059.4L1537.5 1057.7L1539.3 1056.0L1541.1 1054.3L1542.9 1052.6L1544.7 1050.9L1546.5 1049.2L1548.3 1047.5L1550.3 1049.7L1548.4 1051.3L1546.5 1052.9L1544.6 1054.5L1542.7 1056.1L1540.8 1057.7L1538.9 1059.3L1537.0 1060.9L1535.1 1062.5L1533.2 1064.2L1531.4 1065.8L1529.5 1067.4L1527.7 1069.1L1525.8 1070.7L1523.9 1072.3L1522.1 1073.9L1520.2 1075.5L1518.3 1077.1L1516.5 1078.7L1514.6 1080.4L1512.7 1082.0L1510.9 1083.6L1509.0 1085.2L1507.1 1086.8L1505.3 1088.4L1503.4 1090.0L1501.5 1091.5L1499.7 1093.1L1497.8 1094.7L1495.9 1096.3L1494.1 1097.9L1492.2 1099.5L1490.3 1101.1L1488.5 1102.7L1486.6 1104.3L1484.8 1105.9L1482.9 1107.5L1481.1 1109.1L1479.2 1110.7L1477.4 1112.3L1475.6 1113.9L1473.7 1115.5L1471.9 1117.2L1470.0 1118.8L1468.2 1120.4L1466.4 1122.0L1464.5 1123.6L1462.7 1125.2L1460.9 1126.9L1459.0 1128.5L1457.2 1130.1L1455.4 1131.7L1453.6 1133.4L1451.8 1135.0L1450.0 1136.7L1448.1 1138.3L1446.3 1140.0L1444.5 1141.6L1442.8 1143.3L1441.0 1145.0L1439.2 1146.7L1437.5 1148.4L1435.7 1150.1L1434.0 1151.8L1432.2 1153.5L1430.5 1155.3L1428.7 1157.0L1427.0 1158.7L1425.2 1160.5L1423.5 1162.2L1421.8 1163.9L1420.1 1165.7L1418.3 1167.5L1416.6 1169.2L1414.9 1171.0L1413.2 1172.8L1411.5 1174.6L1409.8 1176.4L1408.1 1178.1L1406.4 1179.9L1404.7 1181.8L1403.0 1183.6L1401.3 1185.4L1399.7 1187.2L1398.0 1189.1L1396.3 1190.9L1394.7 1192.8L1393.0 1194.6L1391.3 1196.4L1389.6 1198.3L1388.0 1200.1L1386.3 1202.0L1384.7 1203.9L1383.0 1205.7L1381.4 1207.6L1379.8 1209.5L1378.2 1211.4L1376.7 1213.4L1375.1 1215.3L1373.5 1217.2L1372.0 1219.1L1370.4 1221.1L1368.9 1223.0L1367.4 1225.0L1365.9 1226.9L1364.5 1228.9L1363.3 1231.1L1362.1 1233.3L1361.1 1235.5L1360.0 1237.7L1359.0 1239.9L1358.1 1242.2L1357.2 1244.5L1356.4 1246.8L1355.6 1249.0L1354.6 1251.2L1353.5 1253.3L1352.5 1255.4L1351.5 1257.6L1350.5 1259.7L1349.6 1261.9L1348.7 1264.0L1347.8 1266.2L1346.9 1268.3L1346.1 1270.5L1345.3 1272.7L1344.5 1274.9L1343.7 1277.1L1343.0 1279.4L1342.3 1281.6L1341.5 1283.9L1340.8 1286.1L1340.1 1288.4L1339.5 1290.7L1338.8 1293.0L1338.2 1295.3L1337.6 1297.6L1337.0 1300.0L1336.4 1302.3L1335.8 1304.7L1335.3 1307.0L1334.8 1309.4L1334.3 1311.8L1333.8 1314.2L1333.3 1316.6L1332.9 1319.0L1332.4 1321.4L1332.0 1323.9L1331.5 1326.3L1331.1 1328.7L1330.6 1331.2L1330.2 1333.6L1329.8 1336.0L1329.3 1338.5L1328.9 1340.9L1328.4 1343.4L1327.9 1345.9L1327.5 1348.3L1327.0 1350.8L1326.5 1353.2L1326.0 1355.7L1325.4 1358.1L1324.9 1360.6L1324.3 1363.0L1323.8 1365.5L1323.2 1367.9L1322.6 1370.4L1322.0 1372.8L1321.4 1375.2L1320.7 1377.7L1320.1 1380.1L1319.4 1382.5L1318.8 1384.9L1318.1 1387.3L1317.4 1389.7L1316.8 1392.1L1316.1 1394.6L1315.4 1397.0L1314.7 1399.4L1314.0 1401.8L1313.3 1404.1L1312.6 1406.5L1311.8 1408.9L1311.0 1411.3L1310.3 1413.7L1309.5 1416.0L1308.7 1418.4L1307.8 1420.7L1307.0 1423.1L1306.2 1425.4L1305.3 1427.8L1304.4 1430.1L1303.5 1432.4L1302.6 1434.7L1301.7 1437.1L1300.8 1439.4L1299.8 1441.7L1298.8 1444.0L1297.8 1446.2L1296.8 1448.5L1295.8 1450.8L1294.6 1452.9L1293.4 1455.1L1292.2 1457.3L1290.9 1459.5L1289.7 1461.6L1288.5 1463.7L1287.0 1465.8L1285.5 1467.8L1283.9 1469.7L1282.4 1471.7L1280.8 1473.6L1279.1 1475.5L1277.3 1477.3L1275.6 1479.1L1274.4 1481.3L1273.2 1483.4L1272.0 1485.5L1270.8 1487.7L1269.5 1489.8L1268.1 1491.8L1266.7 1493.8L1265.3 1495.8L1263.9 1497.8L1262.4 1499.8L1260.9 1501.8L1259.5 1503.7L1258.0 1505.7L1256.5 1507.6L1254.9 1509.6L1253.4 1511.5L1251.8 1513.4L1250.2 1515.3L1248.6 1517.1L1247.0 1519.0L1245.3 1520.8L1243.7 1522.7L1242.0 1524.5L1240.4 1526.3L1238.7 1528.1L1237.0 1529.9L1235.3 1531.7L1233.5 1533.5L1231.8 1535.3L1230.1 1537.0L1228.3 1538.8L1226.6 1540.6L1224.8 1542.3L1223.0 1544.1L1221.2 1545.8L1219.4 1547.5L1217.6 1549.2L1215.8 1551.0L1214.0 1552.7L1212.1 1554.4L1210.3 1556.0L1208.5 1557.7L1206.6 1559.4L1204.7 1561.1L1202.9 1562.8L1201.0 1564.4L1199.1 1566.1L1197.3 1567.8L1195.4 1569.4L1193.5 1571.1L1191.6 1572.7L1189.7 1574.4L1187.8 1576.0L1185.9 1577.6L1184.0 1579.3L1182.1 1580.9L1180.2 1582.5L1178.3 1584.1L1176.3 1585.8L1174.4 1587.4L1172.5 1589.0L1170.5 1590.6L1168.6 1592.2L1166.7 1593.8L1164.7 1595.4L1162.8 1597.0L1160.9 1598.6L1158.9 1600.2L1157.0 1601.7L1155.1 1603.3L1153.1 1604.9L1151.2 1606.5L1149.3 1608.1L1147.4 1609.7L1145.4 1611.3L1143.5 1612.8L1141.6 1614.4L1139.7 1616.0L1137.8 1617.6L1135.8 1619.1L1133.9 1620.7L1132.0 1622.3L1130.1 1623.9L1128.2 1625.5L1126.4 1627.0L1124.5 1628.6L1122.6 1630.2L1120.7 1631.8L1118.9 1633.4L1117.0 1635.0L1115.1 1636.5L1113.3 1638.1L1111.5 1639.7L1109.6 1641.3L1107.8 1642.9L1106.0 1644.5L1104.2 1646.1L1102.4 1647.7L1100.6 1649.3L1098.8 1650.9L1097.0 1652.5L1095.3 1654.1L1093.5 1655.8L1091.8 1657.4L1090.1 1659.0Z" fill="#fff"/>
<path d="M1360.5 1226.1L1361.9 1224.1L1363.4 1222.0L1364.8 1220.0L1366.3 1217.9L1367.8 1215.9L1369.3 1213.9L1370.9 1211.9L1372.4 1209.9L1374.0 1208.0L1375.6 1206.0L1377.2 1204.1L1378.9 1202.2L1380.5 1200.3L1382.2 1198.3L1383.8 1196.4L1385.5 1194.6L1387.2 1192.7L1388.9 1190.8L1390.6 1189.0L1392.3 1187.1L1394.0 1185.3L1395.8 1183.5L1397.5 1181.8L1399.3 1180.0L1401.0 1178.2L1402.8 1176.5L1404.6 1174.7L1406.4 1173.0L1408.1 1171.2L1409.9 1169.5L1411.7 1167.8L1413.5 1166.1L1415.3 1164.4L1417.1 1162.7L1418.9 1161.0L1420.7 1159.3L1422.6 1157.7L1424.4 1156.0L1426.2 1154.3L1428.0 1152.7L1429.9 1151.0L1431.7 1149.4L1433.5 1147.8L1435.4 1146.1L1437.2 1144.5L1439.1 1142.9L1440.9 1141.3L1442.8 1139.7L1444.6 1138.0L1446.4 1136.4L1448.3 1134.8L1450.1 1133.1L1451.9 1131.5L1453.8 1129.9L1455.6 1128.3L1457.5 1126.7L1459.3 1125.1L1461.1 1123.5L1463.0 1121.9L1464.8 1120.3L1466.7 1118.7L1468.5 1117.1L1470.4 1115.5L1472.3 1113.9L1474.1 1112.3L1476.0 1110.7L1477.8 1109.1L1479.7 1107.5L1481.6 1105.9L1483.4 1104.3L1485.3 1102.8L1487.2 1101.2L1489.0 1099.6L1490.9 1098.0L1492.8 1096.4L1494.6 1094.8L1496.5 1093.2L1498.4 1091.6L1500.2 1090.0L1502.1 1088.4L1504.0 1086.8L1505.8 1085.2L1507.7 1083.6L1509.6 1082.0L1511.4 1080.4L1513.3 1078.8L1515.2 1077.2L1517.0 1075.6L1518.9 1074.0L1520.7 1072.4L1522.6 1070.8L1524.5 1069.2L1526.3 1067.6L1528.2 1065.9L1530.1 1064.3L1531.9 1062.7L1533.8 1061.0L1535.6 1059.4L1537.5 1057.7L1539.3 1056.0L1541.1 1054.3L1542.9 1052.6L1544.7 1050.9L1546.5 1049.2L1548.3 1047.5L1550.3 1049.7L1548.4 1051.3L1546.5 1052.9L1544.6 1054.5L1542.7 1056.1L1540.8 1057.7L1538.9 1059.3L1537.0 1060.9L1535.1 1062.5L1533.2 1064.2L1531.4 1065.8L1529.5 1067.4L1527.7 1069.1L1525.8 1070.7L1523.9 1072.3L1522.1 1073.9L1520.2 1075.5L1518.3 1077.1L1516.5 1078.7L1514.6 1080.4L1512.7 1082.0L1510.9 1083.6L1509.0 1085.2L1507.1 1086.8L1505.3 1088.4L1503.4 1090.0L1501.5 1091.5L1499.7 1093.1L1497.8 1094.7L1495.9 1096.3L1494.1 1097.9L1492.2 1099.5L1490.3 1101.1L1488.5 1102.7L1486.6 1104.3L1484.8 1105.9L1482.9 1107.5L1481.1 1109.1L1479.2 1110.7L1477.4 1112.3L1475.6 1113.9L1473.7 1115.5L1471.9 1117.2L1470.0 1118.8L1468.2 1120.4L1466.4 1122.0L1464.5 1123.6L1462.7 1125.2L1460.9 1126.9L1459.0 1128.5L1457.2 1130.1L1455.4 1131.7L1453.6 1133.4L1451.8 1135.0L1450.0 1136.7L1448.1 1138.3L1446.3 1140.0L1444.5 1141.6L1442.8 1143.3L1441.0 1145.0L1439.2 1146.7L1437.5 1148.4L1435.7 1150.1L1434.0 1151.8L1432.2 1153.5L1430.5 1155.3L1428.7 1157.0L1427.0 1158.7L1425.2 1160.5L1423.5 1162.2L1421.8 1163.9L1420.1 1165.7L1418.3 1167.5L1416.6 1169.2L1414.9 1171.0L1413.2 1172.8L1411.5 1174.6L1409.8 1176.4L1408.1 1178.1L1406.4 1179.9L1404.7 1181.8L1403.0 1183.6L1401.3 1185.4L1399.7 1187.2L1398.0 1189.1L1396.3 1190.9L1394.7 1192.8L1393.0 1194.6L1391.3 1196.4L1389.6 1198.3L1388.0 1200.1L1386.3 1202.0L1384.7 1203.9L1383.0 1205.7L1381.4 1207.6L1379.8 1209.5L1378.2 1211.4L1376.7 1213.4L1375.1 1215.3L1373.5 1217.2L1372.0 1219.1L1370.4 1221.1L1368.9 1223.0L1367.4 1225.0L1365.9 1226.9L1364.5 1228.9Z" fill="#111"/>
<path d="M1088.0 1656.8L1089.8 1655.2L1091.5 1653.6L1093.3 1651.9L1095.0 1650.3L1096.8 1648.7L1098.6 1647.1L1100.4 1645.5L1102.2 1643.9L1104.0 1642.3L1105.8 1640.6L1107.7 1639.0L1109.5 1637.5L1111.3 1635.9L1113.2 1634.3L1115.0 1632.7L1116.9 1631.1L1118.8 1629.5L1120.7 1627.9L1122.5 1626.3L1124.4 1624.7L1126.3 1623.2L1128.2 1621.6L1130.1 1620.0L1132.0 1618.4L1133.9 1616.8L1135.9 1615.3L1137.8 1613.7L1139.7 1612.1L1141.6 1610.5L1143.5 1608.9L1145.5 1607.4L1147.4 1605.8L1149.3 1604.2L1151.2 1602.6L1153.2 1601.0L1155.1 1599.4L1157.0 1597.8L1159.0 1596.2L1160.9 1594.6L1162.8 1593.0L1164.7 1591.4L1166.7 1589.8L1168.6 1588.2L1170.5 1586.6L1172.4 1585.0L1174.3 1583.4L1176.3 1581.8L1178.2 1580.2L1180.1 1578.5L1182.0 1576.9L1183.9 1575.3L1185.8 1573.6L1187.7 1572.0L1189.5 1570.4L1191.4 1568.7L1193.3 1567.1L1195.2 1565.4L1197.0 1563.7L1198.9 1562.1L1200.7 1560.4L1202.6 1558.7L1204.4 1557.0L1206.2 1555.3L1208.0 1553.6L1209.8 1551.9L1211.6 1550.1L1213.4 1548.4L1215.1 1546.7L1216.9 1544.9L1218.6 1543.2L1220.4 1541.4L1222.1 1539.6L1223.8 1537.9L1225.5 1536.1L1227.2 1534.3L1228.9 1532.5L1230.5 1530.7L1232.2 1528.9L1233.8 1527.0L1235.4 1525.2L1237.0 1523.3L1238.6 1521.5L1240.2 1519.6L1241.7 1517.7L1243.3 1515.9L1244.8 1514.0L1246.3 1512.1L1247.8 1510.2L1249.3 1508.2L1250.8 1506.3L1252.2 1504.4L1253.7 1502.5L1255.1 1500.5L1256.5 1498.6L1257.9 1496.6L1259.3 1494.6L1260.7 1492.6L1262.0 1490.6L1263.3 1488.6L1264.7 1486.6L1266.0 1484.6L1267.4 1482.6L1268.8 1480.7L1270.2 1478.7L1271.5 1476.6L1275.6 1479.1L1274.4 1481.3L1273.2 1483.4L1272.0 1485.5L1270.8 1487.7L1269.5 1489.8L1268.1 1491.8L1266.7 1493.8L1265.3 1495.8L1263.9 1497.8L1262.4 1499.8L1260.9 1501.8L1259.5 1503.7L1258.0 1505.7L1256.5 1507.6L1254.9 1509.6L1253.4 1511.5L1251.8 1513.4L1250.2 1515.3L1248.6 1517.1L1247.0 1519.0L1245.3 1520.8L1243.7 1522.7L1242.0 1524.5L1240.4 1526.3L1238.7 1528.1L1237.0 1529.9L1235.3 1531.7L1233.5 1533.5L1231.8 1535.3L1230.1 1537.0L1228.3 1538.8L1226.6 1540.6L1224.8 1542.3L1223.0 1544.1L1221.2 1545.8L1219.4 1547.5L1217.6 1549.2L1215.8 1551.0L1214.0 1552.7L1212.1 1554.4L1210.3 1556.0L1208.5 1557.7L1206.6 1559.4L1204.7 1561.1L1202.9 1562.8L1201.0 1564.4L1199.1 1566.1L1197.3 1567.8L1195.4 1569.4L1193.5 1571.1L1191.6 1572.7L1189.7 1574.4L1187.8 1576.0L1185.9 1577.6L1184.0 1579.3L1182.1 1580.9L1180.2 1582.5L1178.3 1584.1L1176.3 1585.8L1174.4 1587.4L1172.5 1589.0L1170.5 1590.6L1168.6 1592.2L1166.7 1593.8L1164.7 1595.4L1162.8 1597.0L1160.9 1598.6L1158.9 1600.2L1157.0 1601.7L1155.1 1603.3L1153.1 1604.9L1151.2 1606.5L1149.3 1608.1L1147.4 1609.7L1145.4 1611.3L1143.5 1612.8L1141.6 1614.4L1139.7 1616.0L1137.8 1617.6L1135.8 1619.1L1133.9 1620.7L1132.0 1622.3L1130.1 1623.9L1128.2 1625.5L1126.4 1627.0L1124.5 1628.6L1122.6 1630.2L1120.7 1631.8L1118.9 1633.4L1117.0 1635.0L1115.1 1636.5L1113.3 1638.1L1111.5 1639.7L1109.6 1641.3L1107.8 1642.9L1106.0 1644.5L1104.2 1646.1L1102.4 1647.7L1100.6 1649.3L1098.8 1650.9L1097.0 1652.5L1095.3 1654.1L1093.5 1655.8L1091.8 1657.4L1090.1 1659.0Z" fill="#111"/>
<path d="M1088.0 1656.8L1089.8 1655.2L1091.5 1653.6L1093.3 1651.9L1095.0 1650.3L1096.8 1648.7L1098.6 1647.1L1100.4 1645.5L1102.2 1643.9L1104.0 1642.3L1105.8 1640.6L1107.7 1639.0L1109.5 1637.5L1111.3 1635.9L1113.2 1634.3L1115.0 1632.7L1116.9 1631.1L1118.8 1629.5L1120.7 1627.9L1122.5 1626.3L1124.4 1624.7L1126.3 1623.2L1128.2 1621.6L1130.1 1620.0L1132.0 1618.4L1133.9 1616.8L1135.9 1615.3L1137.8 1613.7L1139.7 1612.1L1141.6 1610.5L1143.5 1608.9L1145.5 1607.4L1147.4 1605.8L1149.3 1604.2L1151.2 1602.6L1153.2 1601.0L1155.1 1599.4L1157.0 1597.8L1159.0 1596.2L1160.9 1594.6L1162.8 1593.0L1164.7 1591.4L1166.7 1589.8L1168.6 1588.2L1170.5 1586.6L1172.4 1585.0L1174.3 1583.4L1176.3 1581.8L1178.2 1580.2L1180.1 1578.5L1182.0 1576.9L1183.9 1575.3L1185.8 1573.6L1187.7 1572.0L1189.5 1570.4L1191.4 1568.7L1193.3 1567.1L1195.2 1565.4L1197.0 1563.7L1198.9 1562.1L1200.7 1560.4L1202.6 1558.7L1204.4 1557.0L1206.2 1555.3L1208.0 1553.6L1209.8 1551.9L1211.6 1550.1L1213.4 1548.4L1215.1 1546.7L1216.9 1544.9L1218.6 1543.2L1220.4 1541.4L1222.1 1539.6L1223.8 1537.9L1225.5 1536.1L1227.2 1534.3L1228.9 1532.5L1230.5 1530.7L1232.2 1528.9L1233.8 1527.0L1235.4 1525.2L1237.0 1523.3L1238.6 1521.5L1240.2 1519.6L1241.7 1517.7L1243.3 1515.9L1244.8 1514.0L1246.3 1512.1L1247.8 1510.2L1249.3 1508.2L1250.8 1506.3L1252.2 1504.4L1253.7 1502.5L1255.1 1500.5L1256.5 1498.6L1257.9 1496.6L1259.3 1494.6L1260.7 1492.6L1262.0 1490.6L1263.3 1488.6L1264.7 1486.6L1266.0 1484.6L1267.4 1482.6L1268.8 1480.7L1270.2 1478.7L1271.5 1476.6L1272.2 1474.3L1273.0 1472.0L1273.7 1469.6L1274.5 1467.3L1275.3 1465.0L1276.1 1462.7L1276.8 1460.4L1277.7 1458.1L1278.7 1455.9L1279.7 1453.8L1280.6 1451.6L1281.5 1449.4L1282.5 1447.1L1283.4 1444.9L1284.4 1442.8L1285.4 1440.6L1286.4 1438.4L1287.4 1436.2L1288.4 1434.1L1289.4 1431.9L1290.3 1429.7L1291.3 1427.5L1292.2 1425.2L1293.1 1423.0L1294.0 1420.8L1294.9 1418.5L1295.8 1416.3L1296.7 1414.0L1297.5 1411.8L1298.3 1409.5L1299.2 1407.2L1300.0 1404.9L1300.8 1402.7L1301.6 1400.4L1302.4 1398.1L1303.1 1395.8L1303.9 1393.4L1304.6 1391.1L1305.3 1388.8L1306.1 1386.5L1306.7 1384.1L1307.4 1381.8L1308.0 1379.4L1308.6 1377.1L1309.3 1374.7L1309.9 1372.3L1310.4 1369.9L1311.0 1367.6L1311.6 1365.2L1312.1 1362.8L1312.7 1360.4L1313.2 1358.0L1313.7 1355.6L1314.2 1353.2L1314.7 1350.8L1315.2 1348.4L1315.7 1346.0L1316.2 1343.6L1316.7 1341.2L1317.2 1338.7L1317.6 1336.3L1318.1 1333.9L1318.6 1331.4L1319.0 1329.0L1319.5 1326.6L1320.0 1324.1L1320.4 1321.7L1320.9 1319.2L1321.4 1316.8L1321.9 1314.3L1322.4 1311.9L1322.9 1309.5L1323.4 1307.0L1323.9 1304.6L1324.4 1302.1L1324.9 1299.7L1325.4 1297.3L1326.0 1294.8L1326.5 1292.4L1327.1 1290.0L1327.7 1287.5L1328.3 1285.1L1329.0 1282.7L1329.6 1280.3L1330.3 1277.9L1331.0 1275.5L1331.8 1273.1L1332.7 1270.7L1333.5 1268.4L1334.4 1266.0L1335.4 1263.7L1336.4 1261.4L1337.4 1259.1L1338.5 1256.8L1339.6 1254.5L1340.7 1252.3L1341.9 1250.0L1343.1 1247.8L1344.4 1245.6L1345.7 1243.5L1347.3 1241.5L1349.0 1239.6L1350.6 1237.6L1352.3 1235.7L1354.0 1233.8L1355.6 1231.9L1357.3 1230.0L1358.9 1228.1L1360.5 1226.1L1361.9 1224.1L1363.4 1222.0L1364.8 1220.0L1366.3 1217.9L1367.8 1215.9L1369.3 1213.9L1370.9 1211.9L1372.4 1209.9L1374.0 1208.0L1375.6 1206.0L1377.2 1204.1L1378.9 1202.2L1380.5 1200.3L1382.2 1198.3L1383.8 1196.4L1385.5 1194.6L1387.2 1192.7L1388.9 1190.8L1390.6 1189.0L1392.3 1187.1L1394.0 1185.3L1395.8 1183.5L1397.5 1181.8L1399.3 1180.0L1401.0 1178.2L1402.8 1176.5L1404.6 1174.7L1406.4 1173.0L1408.1 1171.2L1409.9 1169.5L1411.7 1167.8L1413.5 1166.1L1415.3 1164.4L1417.1 1162.7L1418.9 1161.0L1420.7 1159.3L1422.6 1157.7L1424.4 1156.0L1426.2 1154.3L1428.0 1152.7L1429.9 1151.0L1431.7 1149.4L1433.5 1147.8L1435.4 1146.1L1437.2 1144.5L1439.1 1142.9L1440.9 1141.3L1442.8 1139.7L1444.6 1138.0L1446.4 1136.4L1448.3 1134.8L1450.1 1133.1L1451.9 1131.5L1453.8 1129.9L1455.6 1128.3L1457.5 1126.7L1459.3 1125.1L1461.1 1123.5L1463.0 1121.9L1464.8 1120.3L1466.7 1118.7L1468.5 1117.1L1470.4 1115.5L1472.3 1113.9L1474.1 1112.3L1476.0 1110.7L1477.8 1109.1L1479.7 1107.5L1481.6 1105.9L1483.4 1104.3L1485.3 1102.8L1487.2 1101.2L1489.0 1099.6L1490.9 1098.0L1492.8 1096.4L1494.6 1094.8L1496.5 1093.2L1498.4 1091.6L1500.2 1090.0L1502.1 1088.4L1504.0 1086.8L1505.8 1085.2L1507.7 1083.6L1509.6 1082.0L1511.4 1080.4L1513.3 1078.8L1515.2 1077.2L1517.0 1075.6L1518.9 1074.0L1520.7 1072.4L1522.6 1070.8L1524.5 1069.2L1526.3 1067.6L1528.2 1065.9L1530.1 1064.3L1531.9 1062.7L1533.8 1061.0L1535.6 1059.4L1537.5 1057.7L1539.3 1056.0L1541.1 1054.3L1542.9 1052.6L1544.7 1050.9L1546.5 1049.2L1548.3 1047.5" fill="none" stroke="#111" stroke-width="4.80" stroke-linecap="round" stroke-linejoin="round"/>
<path d="M1090.1 1659.0L1091.8 1657.4L1093.5 1655.8L1095.3 1654.1L1097.0 1652.5L1098.8 1650.9L1100.6 1649.3L1102.4 1647.7L1104.2 1646.1L1106.0 1644.5L1107.8 1642.9L1109.6 1641.3L1111.5 1639.7L1113.3 1638.1L1115.1 1636.5L1117.0 1635.0L1118.9 1633.4L1120.7 1631.8L1122.6 1630.2L1124.5 1628.6L1126.4 1627.0L1128.2 1625.5L1130.1 1623.9L1132.0 1622.3L1133.9 1620.7L1135.8 1619.1L1137.8 1617.6L1139.7 1616.0L1141.6 1614.4L1143.5 1612.8L1145.4 1611.3L1147.4 1609.7L1149.3 1608.1L1151.2 1606.5L1153.1 1604.9L1155.1 1603.3L1157.0 1601.7L1158.9 1600.2L1160.9 1598.6L1162.8 1597.0L1164.7 1595.4L1166.7 1593.8L1168.6 1592.2L1170.5 1590.6L1172.5 1589.0L1174.4 1587.4L1176.3 1585.8L1178.3 1584.1L1180.2 1582.5L1182.1 1580.9L1184.0 1579.3L1185.9 1577.6L1187.8 1576.0L1189.7 1574.4L1191.6 1572.7L1193.5 1571.1L1195.4 1569.4L1197.3 1567.8L1199.1 1566.1L1201.0 1564.4L1202.9 1562.8L1204.7 1561.1L1206.6 1559.4L1208.5 1557.7L1210.3 1556.0L1212.1 1554.4L1214.0 1552.7L1215.8 1551.0L1217.6 1549.2L1219.4 1547.5L1221.2 1545.8L1223.0 1544.1L1224.8 1542.3L1226.6 1540.6L1228.3 1538.8L1230.1 1537.0L1231.8 1535.3L1233.5 1533.5L1235.3 1531.7L1237.0 1529.9L1238.7 1528.1L1240.4 1526.3L1242.0 1524.5L1243.7 1522.7L1245.3 1520.8L1247.0 1519.0L1248.6 1517.1L1250.2 1515.3L1251.8 1513.4L1253.4 1511.5L1254.9 1509.6L1256.5 1507.6L1258.0 1505.7L1259.5 1503.7L1260.9 1501.8L1262.4 1499.8L1263.9 1497.8L1265.3 1495.8L1266.7 1493.8L1268.1 1491.8L1269.5 1489.8L1270.8 1487.7L1272.0 1485.5L1273.2 1483.4L1274.4 1481.3L1275.6 1479.1L1277.3 1477.3L1279.1 1475.5L1280.8 1473.6L1282.4 1471.7L1283.9 1469.7L1285.5 1467.8L1287.0 1465.8L1288.5 1463.7L1289.7 1461.6L1290.9 1459.5L1292.2 1457.3L1293.4 1455.1L1294.6 1452.9L1295.8 1450.8L1296.8 1448.5L1297.8 1446.2L1298.8 1444.0L1299.8 1441.7L1300.8 1439.4L1301.7 1437.1L1302.6 1434.7L1303.5 1432.4L1304.4 1430.1L1305.3 1427.8L1306.2 1425.4L1307.0 1423.1L1307.8 1420.7L1308.7 1418.4L1309.5 1416.0L1310.3 1413.7L1311.0 1411.3L1311.8 1408.9L1312.6 1406.5L1313.3 1404.1L1314.0 1401.8L1314.7 1399.4L1315.4 1397.0L1316.1 1394.6L1316.8 1392.1L1317.4 1389.7L1318.1 1387.3L1318.8 1384.9L1319.4 1382.5L1320.1 1380.1L1320.7 1377.7L1321.4 1375.2L1322.0 1372.8L1322.6 1370.4L1323.2 1367.9L1323.8 1365.5L1324.3 1363.0L1324.9 1360.6L1325.4 1358.1L1326.0 1355.7L1326.5 1353.2L1327.0 1350.8L1327.5 1348.3L1327.9 1345.9L1328.4 1343.4L1328.9 1340.9L1329.3 1338.5L1329.8 1336.0L1330.2 1333.6L1330.6 1331.2L1331.1 1328.7L1331.5 1326.3L1332.0 1323.9L1332.4 1321.4L1332.9 1319.0L1333.3 1316.6L1333.8 1314.2L1334.3 1311.8L1334.8 1309.4L1335.3 1307.0L1335.8 1304.7L1336.4 1302.3L1337.0 1300.0L1337.6 1297.6L1338.2 1295.3L1338.8 1293.0L1339.5 1290.7L1340.1 1288.4L1340.8 1286.1L1341.5 1283.9L1342.3 1281.6L1343.0 1279.4L1343.7 1277.1L1344.5 1274.9L1345.3 1272.7L1346.1 1270.5L1346.9 1268.3L1347.8 1266.2L1348.7 1264.0L1349.6 1261.9L1350.5 1259.7L1351.5 1257.6L1352.5 1255.4L1353.5 1253.3L1354.6 1251.2L1355.6 1249.0L1356.4 1246.8L1357.2 1244.5L1358.1 1242.2L1359.0 1239.9L1360.0 1237.7L1361.1 1235.5L1362.1 1233.3L1363.3 1231.1L1364.5 1228.9L1365.9 1226.9L1367.4 1225.0L1368.9 1223.0L1370.4 1221.1L1372.0 1219.1L1373.5 1217.2L1375.1 1215.3L1376.7 1213.4L1378.2 1211.4L1379.8 1209.5L1381.4 1207.6L1383.0 1205.7L1384.7 1203.9L1386.3 1202.0L1388.0 1200.1L1389.6 1198.3L1391.3 1196.4L1393.0 1194.6L1394.7 1192.8L1396.3 1190.9L1398.0 1189.1L1399.7 1187.2L1401.3 1185.4L1403.0 1183.6L1404.7 1181.8L1406.4 1179.9L1408.1 1178.1L1409.8 1176.4L1411.5 1174.6L1413.2 1172.8L1414.9 1171.0L1416.6 1169.2L1418.3 1167.5L1420.1 1165.7L1421.8 1163.9L1423.5 1162.2L1425.2 1160.5L1427.0 1158.7L1428.7 1157.0L1430.5 1155.3L1432.2 1153.5L1434.0 1151.8L1435.7 1150.1L1437.5 1148.4L1439.2 1146.7L1441.0 1145.0L1442.8 1143.3L1444.5 1141.6L1446.3 1140.0L1448.1 1138.3L1450.0 1136.7L1451.8 1135.0L1453.6 1133.4L1455.4 1131.7L1457.2 1130.1L1459.0 1128.5L1460.9 1126.9L1462.7 1125.2L1464.5 1123.6L1466.4 1122.0L1468.2 1120.4L1470.0 1118.8L1471.9 1117.2L1473.7 1115.5L1475.6 1113.9L1477.4 1112.3L1479.2 1110.7L1481.1 1109.1L1482.9 1107.5L1484.8 1105.9L1486.6 1104.3L1488.5 1102.7L1490.3 1101.1L1492.2 1099.5L1494.1 1097.9L1495.9 1096.3L1497.8 1094.7L1499.7 1093.1L1501.5 1091.5L1503.4 1090.0L1505.3 1088.4L1507.1 1086.8L1509.0 1085.2L1510.9 1083.6L1512.7 1082.0L1514.6 1080.4L1516.5 1078.7L1518.3 1077.1L1520.2 1075.5L1522.1 1073.9L1523.9 1072.3L1525.8 1070.7L1527.7 1069.1L1529.5 1067.4L1531.4 1065.8L1533.2 1064.2L1535.1 1062.5L1537.0 1060.9L1538.9 1059.3L1540.8 1057.7L1542.7 1056.1L1544.6 1054.5L1546.5 1052.9L1548.4 1051.3L1550.3 1049.7" fill="none" stroke="#111" stroke-width="4.80" stroke-linecap="round" stroke-linejoin="round"/>
<circle cx="1089.05" cy="1657.91" r="3.90" fill="#111"/>
<circle cx="1549.30" cy="1048.57" r="3.86" fill="#111"/>
<rect x="962.70" y="962.90" width="711.80" height="778.30" fill="none" stroke="#151515" stroke-width="3.6" stroke-linejoin="round"/>
<text transform="translate(926.31 972.62) scale(0.7900 1)" font-family='"Liberation Sans", sans-serif' font-weight="normal" font-size="30.60" fill="#111" stroke="#111" stroke-width="1.1">6</text>
<text transform="translate(925.95 1102.34) scale(0.7900 1)" font-family='"Liberation Sans", sans-serif' font-weight="normal" font-size="30.60" fill="#111" stroke="#111" stroke-width="1.1">4</text>
<text transform="translate(926.49 1232.21) scale(0.7900 1)" font-family='"Liberation Sans", sans-serif' font-weight="normal" font-size="30.60" fill="#111" stroke="#111" stroke-width="1.1">2</text>
<text transform="translate(926.19 1361.77) scale(0.7900 1)" font-family='"Liberation Sans", sans-serif' font-weight="normal" font-size="30.60" fill="#111" stroke="#111" stroke-width="1.1">0</text>
<text transform="translate(918.45 1491.64) scale(0.7900 1)" font-family='"Liberation Sans", sans-serif' font-weight="normal" font-size="30.60" fill="#111" stroke="#111" stroke-width="1.1"><tspan stroke-width="2.1" stroke-linejoin="round" stroke-linecap="round">-</tspan>2</text>
<text transform="translate(917.91 1621.20) scale(0.7900 1)" font-family='"Liberation Sans", sans-serif' font-weight="normal" font-size="30.60" fill="#111" stroke="#111" stroke-width="1.1"><tspan stroke-width="2.1" stroke-linejoin="round" stroke-linecap="round">-</tspan>4</text>
<text transform="translate(918.27 1750.92) scale(0.7900 1)" font-family='"Liberation Sans", sans-serif' font-weight="normal" font-size="30.60" fill="#111" stroke="#111" stroke-width="1.1"><tspan stroke-width="2.1" stroke-linejoin="round" stroke-linecap="round">-</tspan>6</text>
<text transform="translate(924.99 1795.52) scale(0.7900 1)" font-family='"Liberation Sans", sans-serif' font-weight="normal" font-size="30.60" fill="#111" stroke="#111" stroke-width="1.1"><tspan stroke-width="2.1" stroke-linejoin="round" stroke-linecap="round">-</tspan>15000</text>
<text transform="translate(1043.62 1795.52) scale(0.7900 1)" font-family='"Liberation Sans", sans-serif' font-weight="normal" font-size="30.60" fill="#111" stroke="#111" stroke-width="1.1"><tspan stroke-width="2.1" stroke-linejoin="round" stroke-linecap="round">-</tspan>10000</text>
<text transform="translate(1168.96 1795.52) scale(0.7900 1)" font-family='"Liberation Sans", sans-serif' font-weight="normal" font-size="30.60" fill="#111" stroke="#111" stroke-width="1.1"><tspan stroke-width="2.1" stroke-linejoin="round" stroke-linecap="round">-</tspan>5000</text>
<text transform="translate(1311.86 1795.52) scale(0.7900 1)" font-family='"Liberation Sans", sans-serif' font-weight="normal" font-size="30.60" fill="#111" stroke="#111" stroke-width="1.1">0</text>
<text transform="translate(1410.34 1795.52) scale(0.7900 1)" font-family='"Liberation Sans", sans-serif' font-weight="normal" font-size="30.60" fill="#111" stroke="#111" stroke-width="1.1">5000</text>
<text transform="translate(1521.81 1795.52) scale(0.7900 1)" font-family='"Liberation Sans", sans-serif' font-weight="normal" font-size="30.60" fill="#111" stroke="#111" stroke-width="1.1">10000</text>
<text transform="translate(1640.44 1795.52) scale(0.7900 1)" font-family='"Liberation Sans", sans-serif' font-weight="normal" font-size="30.60" fill="#111" stroke="#111" stroke-width="1.1">15000</text>
<text transform="translate(1158.11 1848.50) scale(0.9946 1)" font-family='"Liberation Serif", serif' font-weight="bold" font-size="39.20" fill="#111">Applied Field (Oe)</text>
<text transform="translate(897.30 1547.28) rotate(-90) scale(0.9605 1)" font-family='"Liberation Serif", serif' font-weight="bold" font-size="40.50" fill="#111">Magnetization (cmu/g)</text>
<text transform="translate(977.33 1028.14) scale(0.7612 1)" font-family='"Liberation Serif", serif' font-weight="normal" font-size="51.57" fill="#111" stroke="#111" stroke-width="1.3">(d)</text>
</svg>
</body></html>
